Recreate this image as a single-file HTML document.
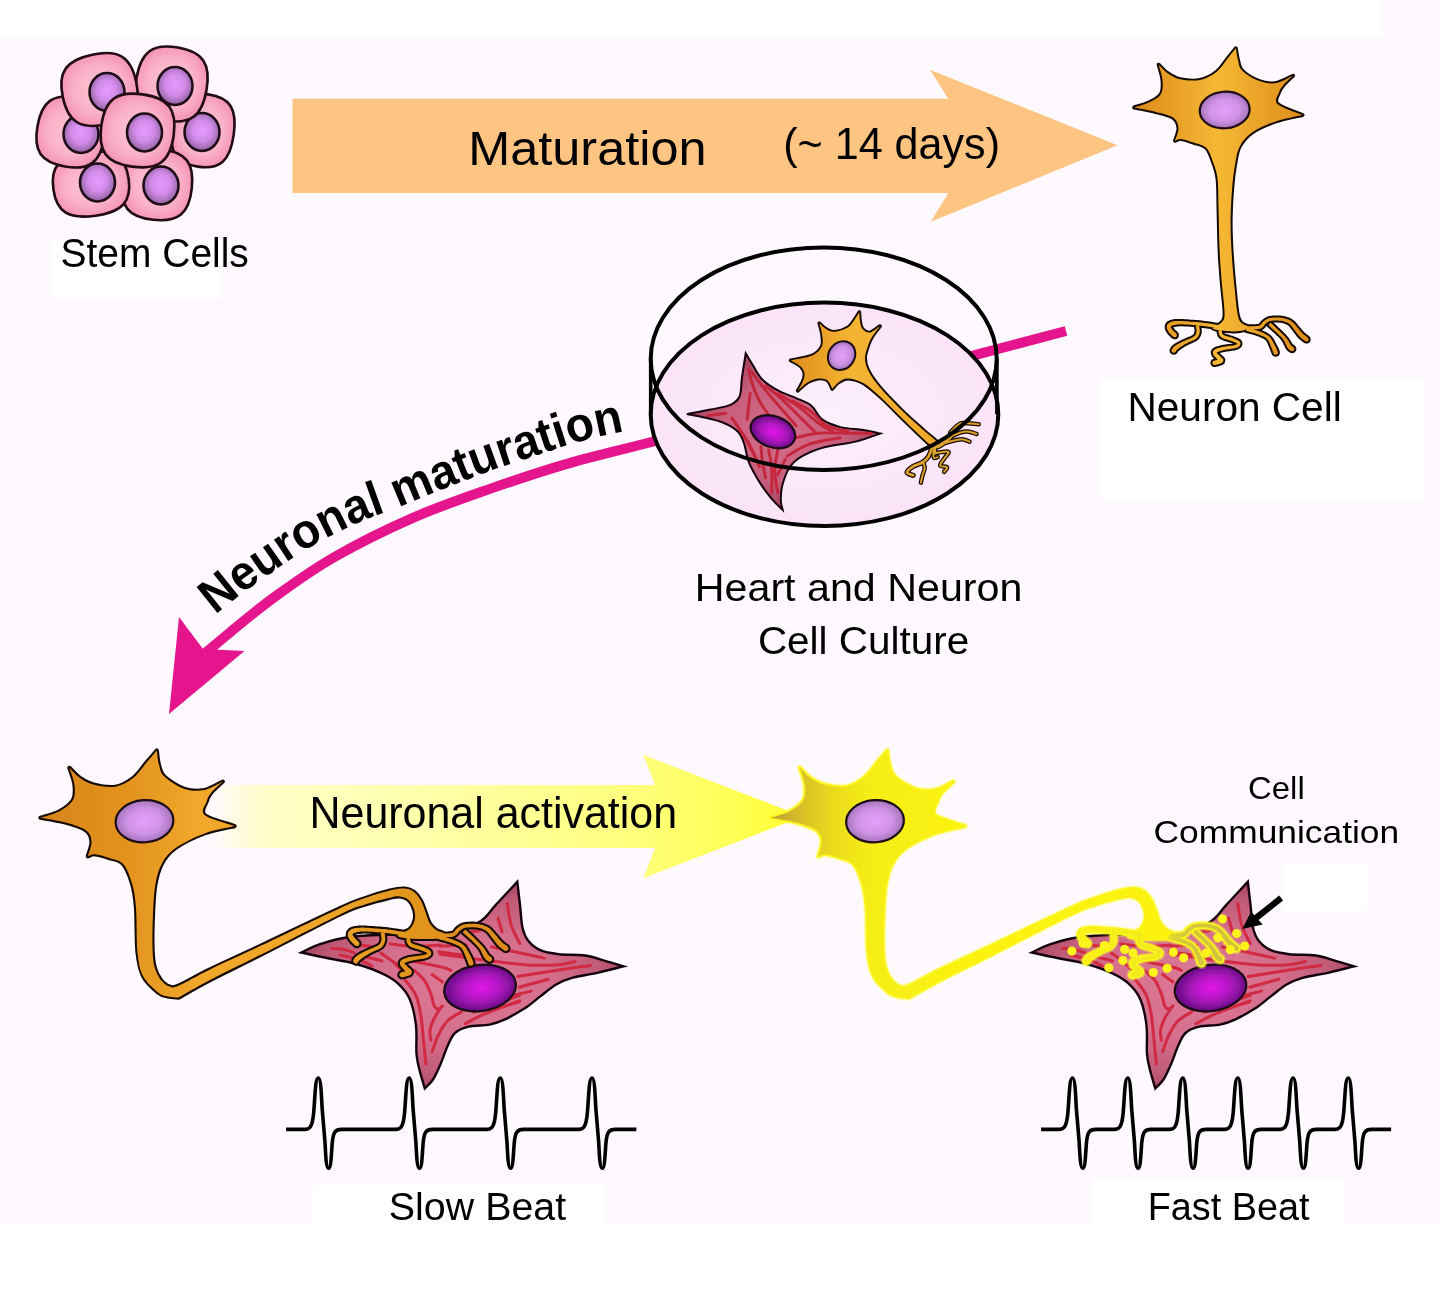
<!DOCTYPE html>
<html lang="en"><head><meta charset="utf-8"><title>Neuronal maturation and activation</title>
<style>html,body{margin:0;padding:0;background:#fff;}body{width:1440px;height:1295px;overflow:hidden;}svg{display:block;}</style>
</head><body>
<svg width="1440" height="1295" viewBox="0 0 1440 1295">
<defs>
<radialGradient id="gStem" cx="50%" cy="50%" r="55%"><stop offset="0" stop-color="#fcc6d4"/><stop offset="0.6" stop-color="#fab2c8"/><stop offset="1" stop-color="#f491b2"/></radialGradient>
<radialGradient id="gNuc" cx="50%" cy="46%" r="56%"><stop offset="0" stop-color="#e79afd"/><stop offset="0.5" stop-color="#d28bea"/><stop offset="1" stop-color="#8c5f98"/></radialGradient>
<radialGradient id="gNuc2" cx="50%" cy="50%" r="55%"><stop offset="0" stop-color="#e3a2fb"/><stop offset="0.55" stop-color="#cf92e6"/><stop offset="1" stop-color="#9a6cae"/></radialGradient>
<radialGradient id="gHNuc" cx="52%" cy="50%" r="55%"><stop offset="0" stop-color="#e216ea"/><stop offset="0.45" stop-color="#b414c4"/><stop offset="1" stop-color="#5a0f78"/></radialGradient>
<radialGradient id="gHeart" cx="50%" cy="50%" r="55%"><stop offset="0" stop-color="#dd7996"/><stop offset="0.5" stop-color="#d46e8c"/><stop offset="0.8" stop-color="#bf5a77"/><stop offset="1" stop-color="#9c405a"/></radialGradient>
<radialGradient id="gHeartD" cx="50%" cy="50%" r="55%"><stop offset="0" stop-color="#d46c89"/><stop offset="0.55" stop-color="#c9607e"/><stop offset="1" stop-color="#9a3e58"/></radialGradient>
<radialGradient id="gDish" cx="50%" cy="50%" r="60%"><stop offset="0" stop-color="#fdf0fc"/><stop offset="1" stop-color="#fae1f7"/></radialGradient>
<linearGradient id="gYArrow" gradientUnits="userSpaceOnUse" x1="212" y1="0" x2="800" y2="0"><stop offset="0" stop-color="#ffffb0" stop-opacity="0"/><stop offset="0.1" stop-color="#ffffc4" stop-opacity="0.95"/><stop offset="0.45" stop-color="#ffffa0"/><stop offset="0.72" stop-color="#ffff7c"/><stop offset="0.88" stop-color="#ffff58"/><stop offset="1" stop-color="#ffff30"/></linearGradient>
</defs>
<filter id="soft" filterUnits="userSpaceOnUse" x="-20" y="-20" width="1480" height="1335"><feGaussianBlur stdDeviation="0.5"/></filter>
<g filter="url(#soft)">
<rect x="-20" y="-20" width="1480" height="1335" fill="#fef9fe"/>
<rect x="-20" y="-20" width="1402" height="56" fill="#fff"/>
<rect x="-20" y="1223.5" width="1480" height="92" fill="#fff"/>
<rect x="52" y="240" width="170" height="58" fill="#fff"/>
<rect x="1100" y="379" width="324" height="120" fill="#fff"/>
<rect x="313" y="1185" width="292" height="40" fill="#fff"/>
<rect x="1092" y="1179" width="252" height="45" fill="#fff"/>
<rect x="1282" y="864" width="85" height="47" fill="#fff"/>
<g id="stem">
<path d="M172 130.5 C172 104.2 180.7 94 203 94 C225.3 94 234 104.2 234 130.5 C234 156.8 225.3 167 203 167 C180.7 167 172 156.8 172 130.5Z" transform="rotate(8 203 130.5)" fill="url(#gStem)" stroke="#220814" stroke-width="2.6"/>
<ellipse cx="202" cy="132" rx="17.5" ry="19" transform="rotate(0 202 132)" fill="url(#gNuc)" stroke="#1a0a14" stroke-width="2.5"/>
<path d="M122 184.5 C122 158.9 131.8 149 157 149 C182.2 149 192 158.9 192 184.5 C192 210.1 182.2 220 157 220 C131.8 220 122 210.1 122 184.5Z" transform="rotate(6 157 184.5)" fill="url(#gStem)" stroke="#220814" stroke-width="2.6"/>
<ellipse cx="161" cy="185.5" rx="17.5" ry="19" transform="rotate(0 161 185.5)" fill="url(#gNuc)" stroke="#1a0a14" stroke-width="2.5"/>
<path d="M53 184 C53 161 63.6 152 91 152 C118.4 152 129 161 129 184 C129 207 118.4 216 91 216 C63.6 216 53 207 53 184Z" transform="rotate(-8 91 184)" fill="url(#gStem)" stroke="#220814" stroke-width="2.6"/>
<ellipse cx="97.5" cy="182.5" rx="17.5" ry="19" transform="rotate(0 97.5 182.5)" fill="url(#gNuc)" stroke="#1a0a14" stroke-width="2.5"/>
<path d="M37 132 C37 106.8 46.5 97 71 97 C95.5 97 105 106.8 105 132 C105 157.2 95.5 167 71 167 C46.5 167 37 157.2 37 132Z" transform="rotate(10 71 132)" fill="url(#gStem)" stroke="#220814" stroke-width="2.6"/>
<ellipse cx="81" cy="134" rx="17.5" ry="19" transform="rotate(0 81 134)" fill="url(#gNuc)" stroke="#1a0a14" stroke-width="2.5"/>
<path d="M136 84 C136 57.4 145.9 47 171.5 47 C197.1 47 207 57.4 207 84 C207 110.6 197.1 121 171.5 121 C145.9 121 136 110.6 136 84Z" transform="rotate(10 171.5 84)" fill="url(#gStem)" stroke="#220814" stroke-width="2.6"/>
<ellipse cx="175" cy="86" rx="17.5" ry="19" transform="rotate(0 175 86)" fill="url(#gNuc)" stroke="#1a0a14" stroke-width="2.5"/>
<path d="M62 89.5 C62 63.9 72.5 54 99.5 54 C126.5 54 137 63.9 137 89.5 C137 115.1 126.5 125 99.5 125 C72.5 125 62 115.1 62 89.5Z" transform="rotate(-12 99.5 89.5)" fill="url(#gStem)" stroke="#220814" stroke-width="2.6"/>
<ellipse cx="107" cy="92" rx="17.5" ry="19" transform="rotate(0 107 92)" fill="url(#gNuc)" stroke="#1a0a14" stroke-width="2.5"/>
<path d="M101 130.5 C101 104.2 111.2 94 137.5 94 C163.8 94 174 104.2 174 130.5 C174 156.8 163.8 167 137.5 167 C111.2 167 101 156.8 101 130.5Z" transform="rotate(8 137.5 130.5)" fill="url(#gStem)" stroke="#220814" stroke-width="2.6"/>
<ellipse cx="144.5" cy="132.5" rx="17.5" ry="19" transform="rotate(0 144.5 132.5)" fill="url(#gNuc)" stroke="#1a0a14" stroke-width="2.5"/>
</g>
<path d="M292.5 98.7H948.3L930 69.7L1117.5 145.3L930.8 221.7L948.3 193H292.5Z" fill="#fdc482"/>
<path id="magpath" d="M196 661C201.6 656.3 216.2 643.6 229.5 632.8C242.8 621.9 258.6 608.5 276.1 595.9C293.6 583.3 311.8 570 334.5 557C357.2 544 386.4 529.5 412.3 518.1C438.2 506.8 464.1 498 490 488.9C515.9 479.8 540.6 471.5 567.8 463.6C595 455.7 621.4 449.9 653.4 441.5C685.4 433.1 718.9 424.1 760 413C801.1 401.9 849 388.7 900 375C951 361.3 1038.3 338.3 1066 331" fill="none" stroke="#e5178d" stroke-width="10"/>
<path d="M179 617L203 649L244.5 651L169 714Z" fill="#e5178d"/>
<g id="dish">
<ellipse cx="824.5" cy="414.3" rx="173.8" ry="111.7" fill="url(#gDish)"/>
</g>
<g id="dheart">
<clipPath id="clipD"><path d="M686.9 414.1C690.9 413.3 703.4 411 710.6 409.5C717.9 408 725.6 407.1 730.4 404.9C735.2 402.7 737.7 400.9 739.6 396.5C741.5 392.1 740.9 385.4 741.9 378.2C742.9 371 745.1 357.5 745.7 353.4C747 355.5 750.5 361.6 753.3 366C756.1 370.4 758.4 375.6 762.5 379.7C766.6 383.8 772.2 387.3 777.8 390.4C783.4 393.5 790.5 395.6 796.1 398.1C801.7 400.7 807.1 402.1 811.4 405.7C815.7 409.2 817.3 415.8 822.1 419.4C826.9 423 833.5 425.3 840.4 427.1C847.3 428.9 856.7 429 863.3 430.1C869.9 431.2 877.4 432.9 880.2 433.5C876.1 434.9 864.9 439.4 855.7 441.6C846.5 443.9 834.1 444.6 825.2 447C816.3 449.4 808.1 452.8 802.2 456.1C796.3 459.4 793.3 462 790 466.8C786.7 471.6 783.9 479.5 782.4 485.1C780.9 490.7 780.8 496.3 780.8 500.4C780.8 504.5 782.4 508.3 782.7 509.9C780.9 508.1 775.6 503.5 771.7 498.9C767.8 494.3 763.3 488.2 759.5 482.1C755.7 476 751.3 468.6 748.8 462.2C746.2 455.8 746 449 744.2 443.9C742.4 438.8 741.6 435.3 738 431.7C734.4 428.1 728.6 424.9 722.8 422.5C716.9 420.1 708.9 418.6 702.9 417.2C696.9 415.8 689.6 414.6 686.9 414.1Z"/></clipPath>
<path d="M686.9 414.1C690.9 413.3 703.4 411 710.6 409.5C717.9 408 725.6 407.1 730.4 404.9C735.2 402.7 737.7 400.9 739.6 396.5C741.5 392.1 740.9 385.4 741.9 378.2C742.9 371 745.1 357.5 745.7 353.4C747 355.5 750.5 361.6 753.3 366C756.1 370.4 758.4 375.6 762.5 379.7C766.6 383.8 772.2 387.3 777.8 390.4C783.4 393.5 790.5 395.6 796.1 398.1C801.7 400.7 807.1 402.1 811.4 405.7C815.7 409.2 817.3 415.8 822.1 419.4C826.9 423 833.5 425.3 840.4 427.1C847.3 428.9 856.7 429 863.3 430.1C869.9 431.2 877.4 432.9 880.2 433.5C876.1 434.9 864.9 439.4 855.7 441.6C846.5 443.9 834.1 444.6 825.2 447C816.3 449.4 808.1 452.8 802.2 456.1C796.3 459.4 793.3 462 790 466.8C786.7 471.6 783.9 479.5 782.4 485.1C780.9 490.7 780.8 496.3 780.8 500.4C780.8 504.5 782.4 508.3 782.7 509.9C780.9 508.1 775.6 503.5 771.7 498.9C767.8 494.3 763.3 488.2 759.5 482.1C755.7 476 751.3 468.6 748.8 462.2C746.2 455.8 746 449 744.2 443.9C742.4 438.8 741.6 435.3 738 431.7C734.4 428.1 728.6 424.9 722.8 422.5C716.9 420.1 708.9 418.6 702.9 417.2C696.9 415.8 689.6 414.6 686.9 414.1Z" fill="url(#gHeartD)" stroke="#14040c" stroke-width="2"/>
<g clip-path="url(#clipD)" fill="none" stroke="#c5263a" stroke-width="2.9" stroke-linecap="round">
<path d="M748.8 369C749.3 371.3 750 377.4 751.8 382.8C753.6 388.2 756.2 395 759.5 401.1C762.8 407.2 769.7 416.3 771.7 419.4"/>
<path d="M750.3 393.5C750 395.6 749.1 401.7 748.6 406C748.1 410.3 747.4 417.2 747.2 419.4"/>
<path d="M751.8 372C754.1 375.1 760.2 383.8 765.6 390.4C771 397 778.8 405.9 783.9 411.8C789 417.7 794.1 423.3 796.1 425.6"/>
<path d="M765.6 385.8C768.6 388.4 777.8 395.5 783.9 401.1C790 406.7 797.1 414.3 802.2 419.4C807.3 424.5 812.5 429.6 814.5 431.7"/>
<path d="M777.8 393.5C781.4 395.8 792.6 402.4 799.2 407.2C805.8 412 811.9 418.4 817.5 422.5C823.1 426.6 830.2 430.2 832.8 431.7"/>
<path d="M793 401.1C796.1 402.9 805.8 407.7 811.4 411.8C817 415.9 820.6 422.3 826.7 425.6C832.8 428.9 844.5 430.7 848 431.7"/>
<path d="M796.1 437.8C799.7 437 808.9 434 817.5 433.2C826.1 432.4 839.1 433.2 848 433.2C856.9 433.2 867.2 433.2 871 433.2"/>
<path d="M787 456.1C790.8 454.1 801 446.9 809.9 443.9C818.8 440.8 835.3 438.8 840.4 437.8"/>
<path d="M707.5 415.6C710.5 415.2 722.8 413.7 725.8 413.3"/>
<path d="M731.9 417.9C733.4 420.2 737.8 426.3 741.1 431.7C744.4 437.1 748.7 444.1 751.8 450C754.9 455.9 758.2 464 759.5 466.8"/>
<path d="M735 422.5C737 425.6 743.6 434.7 747.2 440.8C750.8 446.9 754.9 456.1 756.4 459.2"/>
<path d="M761 447C761.2 449.5 761.7 457.1 762.5 462.2C763.3 467.3 765.1 474.9 765.6 477.5"/>
<path d="M768.6 450C769.1 453.1 771.2 461.2 771.7 468.3C772.2 475.4 771.7 488.7 771.7 492.8"/>
<path d="M777.8 450C777.3 453.3 774.7 462.8 774.7 469.9C774.7 477 777.3 489 777.8 492.8"/>
<path d="M785.4 459.2C784.1 461.8 779.1 471.9 777.8 474.5"/>
</g>
<ellipse cx="772.9" cy="431.7" rx="23" ry="15.5" transform="rotate(20 772.9 431.7)" fill="url(#gHNuc)" stroke="#1a0a14" stroke-width="2.3"/>
</g>
<linearGradient id="gDN" gradientUnits="userSpaceOnUse" x1="792" y1="0" x2="940" y2="0"><stop offset="0" stop-color="#de8e1c"/><stop offset="0.4" stop-color="#f5b432"/><stop offset="1" stop-color="#eda828"/></linearGradient>
<g id="dneuron" fill="none" stroke-linecap="round" stroke-linejoin="round">
<path d="M790.7 360.4C794.3 359.6 807 358 812.2 355.6C817.4 353.2 820.4 349.6 822 346C823.6 342.4 822.5 337.8 822 334C821.5 330.2 819.8 325.1 819.3 323.3C820.4 324.2 823.5 327.6 826 329C828.5 330.4 830.8 332.1 834.4 331.8C838 331.6 844.4 329.6 847.8 327.5C851.2 325.4 853.1 321.6 855 319C856.9 316.4 858.6 313.3 859.3 312.2C859.4 313.7 859.5 318.2 860 321C860.5 323.8 860.8 327.1 862.5 329C864.2 330.9 867.1 333 870 332.5C872.9 332 878.3 327.2 880 326.2C878.7 328 874 333.7 872 337C870 340.3 869.2 342.5 868 346C866.8 349.5 865 353.9 865 358C865 362.1 865.8 365.7 868.3 370.7C870.8 375.7 874.6 381.1 880.2 387.8C885.9 394.5 894.9 403.6 902.2 410.8C909.5 418 918.2 425.4 924.2 430.8C930.2 436.2 936.7 440.6 938.4 443.4C940.1 446.2 936.2 447.6 934.6 447.6C933 447.6 933.7 448.2 928.6 443.6C923.5 439 911.9 427.8 904.1 420.2C896.3 412.6 888.5 404.3 881.8 398.2C875.1 392.1 869.3 386.6 863.7 383.3C858.1 380 852.1 378.7 848 378.5C843.9 378.3 841.6 380.3 839 382C836.4 383.7 833.3 387.8 832.2 388.9C831.8 387.9 830.5 384.6 829.5 383C828.5 381.4 827.9 380.2 826 379.5C824.1 378.8 821 378.1 818 378.5C815 378.9 811.2 380.2 807.8 382.2C804.4 384.2 799.5 389.3 797.8 390.7C798.7 389.1 801.9 383.8 803 381C804.1 378.2 804.8 376.4 804.5 374C804.2 371.6 803.3 369 801 366.7C798.7 364.4 792.4 361.4 790.7 360.4Z" stroke="#140802" stroke-width="3.8"/>
<path d="M934 445.5C934.6 445.6 935.4 447.4 937.9 446.3C940.4 445.2 946.4 440.7 948.7 438.6C951 436.6 951.3 434.8 951.8 434" stroke="#1a0c04" stroke-width="6.1"/>
<path d="M950.2 432.4C951.8 431 956.7 425.4 959.5 423.9C962.3 422.4 964 423.1 967.2 423.2C970.4 423.3 976.9 424.1 978.8 424.3" stroke="#1a0c04" stroke-width="4.5"/>
<path d="M951.8 436.3C953.3 435.6 958.2 433.2 961 432.4C963.8 431.6 966.2 431.4 968.8 431.7C971.4 432 975.2 433.6 976.5 434" stroke="#1a0c04" stroke-width="4.5"/>
<path d="M944.1 443.2C946 442.7 952.4 440.8 955.6 440.2C958.8 439.6 961.1 439.1 963.4 439.4C965.7 439.6 968.5 441.3 969.5 441.7" stroke="#1a0c04" stroke-width="4.5"/>
<path d="M932.5 446C932.4 446.3 932.4 446.2 931.7 447.9C931.1 449.6 930.2 454 928.6 456.4C927 458.8 925 460.8 922.4 462.5C919.8 464.2 915.8 464.7 913.2 466.4C910.6 468.1 907 471.1 907 472.6C907 474.1 912.2 474.9 913.2 475.3" stroke="#1a0c04" stroke-width="5.2"/>
<path d="M923.2 462.5C923.5 463.4 924.8 465.8 924.7 468C924.6 470.2 923 473.3 922.4 475.7C921.8 478.1 921.1 481.5 920.9 482.6" stroke="#1a0c04" stroke-width="4.5"/>
<path d="M935.6 453.3C937 453 941.9 451.8 944.1 451.7C946.3 451.6 948.7 451.3 948.7 452.5C948.7 453.7 945.5 456.5 944.1 458.7C942.7 460.9 939.7 464.2 940.2 465.6C940.7 467 946.5 466.2 947.1 467.2C947.8 468.2 944.6 471 944.1 471.8" stroke="#1a0c04" stroke-width="4.5"/>
<path d="M933.2 452C933.3 453 933.2 457 934 457.9C934.8 458.8 937.2 457.2 937.9 457.1" stroke="#1a0c04" stroke-width="4.3"/>
<path d="M934 446C934.1 447.2 934.4 451.8 934.5 453" stroke="#1a0c04" stroke-width="6.1"/>
<path d="M790.7 360.4C794.3 359.6 807 358 812.2 355.6C817.4 353.2 820.4 349.6 822 346C823.6 342.4 822.5 337.8 822 334C821.5 330.2 819.8 325.1 819.3 323.3C820.4 324.2 823.5 327.6 826 329C828.5 330.4 830.8 332.1 834.4 331.8C838 331.6 844.4 329.6 847.8 327.5C851.2 325.4 853.1 321.6 855 319C856.9 316.4 858.6 313.3 859.3 312.2C859.4 313.7 859.5 318.2 860 321C860.5 323.8 860.8 327.1 862.5 329C864.2 330.9 867.1 333 870 332.5C872.9 332 878.3 327.2 880 326.2C878.7 328 874 333.7 872 337C870 340.3 869.2 342.5 868 346C866.8 349.5 865 353.9 865 358C865 362.1 865.8 365.7 868.3 370.7C870.8 375.7 874.6 381.1 880.2 387.8C885.9 394.5 894.9 403.6 902.2 410.8C909.5 418 918.2 425.4 924.2 430.8C930.2 436.2 936.7 440.6 938.4 443.4C940.1 446.2 936.2 447.6 934.6 447.6C933 447.6 933.7 448.2 928.6 443.6C923.5 439 911.9 427.8 904.1 420.2C896.3 412.6 888.5 404.3 881.8 398.2C875.1 392.1 869.3 386.6 863.7 383.3C858.1 380 852.1 378.7 848 378.5C843.9 378.3 841.6 380.3 839 382C836.4 383.7 833.3 387.8 832.2 388.9C831.8 387.9 830.5 384.6 829.5 383C828.5 381.4 827.9 380.2 826 379.5C824.1 378.8 821 378.1 818 378.5C815 378.9 811.2 380.2 807.8 382.2C804.4 384.2 799.5 389.3 797.8 390.7C798.7 389.1 801.9 383.8 803 381C804.1 378.2 804.8 376.4 804.5 374C804.2 371.6 803.3 369 801 366.7C798.7 364.4 792.4 361.4 790.7 360.4Z" fill="url(#gDN)"/>
<path d="M934 445.5C934.6 445.6 935.4 447.4 937.9 446.3C940.4 445.2 946.4 440.7 948.7 438.6C951 436.6 951.3 434.8 951.8 434" stroke="#dca22e" stroke-width="3.6"/>
<path d="M950.2 432.4C951.8 431 956.7 425.4 959.5 423.9C962.3 422.4 964 423.1 967.2 423.2C970.4 423.3 976.9 424.1 978.8 424.3" stroke="#dca22e" stroke-width="2"/>
<path d="M951.8 436.3C953.3 435.6 958.2 433.2 961 432.4C963.8 431.6 966.2 431.4 968.8 431.7C971.4 432 975.2 433.6 976.5 434" stroke="#dca22e" stroke-width="2"/>
<path d="M944.1 443.2C946 442.7 952.4 440.8 955.6 440.2C958.8 439.6 961.1 439.1 963.4 439.4C965.7 439.6 968.5 441.3 969.5 441.7" stroke="#dca22e" stroke-width="2"/>
<path d="M932.5 446C932.4 446.3 932.4 446.2 931.7 447.9C931.1 449.6 930.2 454 928.6 456.4C927 458.8 925 460.8 922.4 462.5C919.8 464.2 915.8 464.7 913.2 466.4C910.6 468.1 907 471.1 907 472.6C907 474.1 912.2 474.9 913.2 475.3" stroke="#dca22e" stroke-width="2.7"/>
<path d="M923.2 462.5C923.5 463.4 924.8 465.8 924.7 468C924.6 470.2 923 473.3 922.4 475.7C921.8 478.1 921.1 481.5 920.9 482.6" stroke="#dca22e" stroke-width="2"/>
<path d="M935.6 453.3C937 453 941.9 451.8 944.1 451.7C946.3 451.6 948.7 451.3 948.7 452.5C948.7 453.7 945.5 456.5 944.1 458.7C942.7 460.9 939.7 464.2 940.2 465.6C940.7 467 946.5 466.2 947.1 467.2C947.8 468.2 944.6 471 944.1 471.8" stroke="#dca22e" stroke-width="2"/>
<path d="M933.2 452C933.3 453 933.2 457 934 457.9C934.8 458.8 937.2 457.2 937.9 457.1" stroke="#dca22e" stroke-width="1.8"/>
<path d="M934 446C934.1 447.2 934.4 451.8 934.5 453" stroke="#dca22e" stroke-width="3.6"/>
</g>
<ellipse cx="841.6" cy="355.6" rx="13" ry="15" transform="rotate(35 841.6 355.6)" fill="url(#gNuc2)" stroke="#1a0a14" stroke-width="2.0"/>
<g fill="none" stroke="#000" stroke-width="4">
<ellipse cx="824.5" cy="414.3" rx="173.8" ry="111.7"/>
<ellipse cx="823.7" cy="358.7" rx="173" ry="111.3"/>
<path d="M650.7 358.7V414.3M996.9 358.7V414.3" stroke-width="3.6"/>
</g>
<linearGradient id="gTR" gradientUnits="userSpaceOnUse" x1="1134" y1="0" x2="1303" y2="0"><stop offset="0" stop-color="#dc8a1b"/><stop offset="0.5" stop-color="#f6b834"/><stop offset="1" stop-color="#dd8c1b"/></linearGradient>
<linearGradient id="gTRb" gradientUnits="userSpaceOnUse" x1="1168" y1="0" x2="1308" y2="0"><stop offset="0" stop-color="#e49a22"/><stop offset="0.45" stop-color="#f2b030"/><stop offset="1" stop-color="#de8a1c"/></linearGradient>
<g id="ntr" fill="none" stroke-linecap="round" stroke-linejoin="round"><path d="M1134.2 107.5C1136.8 106.6 1145.5 104.2 1150 102C1154.5 99.8 1158.9 97.7 1161 94C1163.1 90.3 1162.9 84.9 1162.5 80C1162.1 75.1 1159.3 67.2 1158.7 64.7C1160.2 66.2 1164.5 71.1 1168 73.5C1171.5 75.9 1174.7 78.1 1180 79.2C1185.3 80.3 1193.9 81.2 1200 80C1206.1 78.8 1212 75.4 1216.7 71.7C1221.4 68 1224.8 61.9 1228 58C1231.2 54.1 1234.5 49.9 1235.8 48.3C1236.2 50.2 1237 56.4 1238 60C1239 63.6 1238.6 66.7 1241.7 70C1244.8 73.3 1251.2 77.8 1256.7 80C1262.2 82.2 1269 84 1275 83.3C1281 82.6 1290 77 1293 75.8C1291.4 77.3 1285.8 82.2 1283.5 85C1281.2 87.8 1280 89.3 1279 92.5C1278 95.7 1273.6 100.2 1277.5 104C1281.4 107.8 1298.3 113.2 1302.5 115C1297.9 116.1 1283.4 118.8 1275 121.7C1266.6 124.6 1257.9 128.3 1252 132.5C1246.1 136.7 1242.4 141.3 1239.6 146.7C1236.8 152.1 1236.3 157.8 1235 165C1233.7 172.2 1232.7 180.3 1232 190C1231.3 199.7 1230.6 212.5 1230.6 223.3C1230.6 234.1 1231.1 243.9 1231.8 255C1232.5 266.1 1233.8 280.2 1234.8 290C1235.8 299.8 1236.6 308.6 1237.6 314C1238.6 319.4 1239.1 320.2 1241 322.5C1242.9 324.8 1249.2 326.1 1249 327.5C1248.8 328.9 1243.8 330.4 1240 331C1236.2 331.6 1230.5 331.4 1226 331C1221.5 330.6 1213.8 329.8 1213 328.5C1212.2 327.2 1219.1 325.4 1221 323C1222.9 320.6 1224.5 321.2 1224.6 314C1224.7 306.8 1222.4 290.7 1221.6 280C1220.8 269.3 1220.1 262.2 1219.6 250C1219.1 237.8 1218.8 218.6 1218.5 206.7C1218.2 194.8 1218.5 186.1 1217.5 178.3C1216.5 170.5 1214.2 165.1 1212.3 160C1210.4 154.9 1209.2 150.4 1206 147.5C1202.8 144.6 1197.5 143.9 1193.3 142.5C1189.1 141.1 1184 139.3 1181 139C1178 138.7 1176 140.5 1175 140.8C1175.6 138.7 1178.8 131.9 1178.5 128C1178.2 124.1 1176.9 120.2 1173 117.5C1169.1 114.8 1161.5 113.4 1155 111.7C1148.5 110 1137.7 108.2 1134.2 107.5ZM1223.7 325.8L1221.6 325.5L1218.5 325L1214.8 324.4L1211 323.8L1207.4 323.3L1204.2 322.9L1201.6 322.6L1199.2 322.3L1197.1 322.1L1195 322L1192.9 321.8L1190.8 321.7L1188.7 321.5L1186.6 321.3L1184.4 321.2L1182.4 321L1180.4 320.9L1178.5 320.9L1176.8 321L1175.2 321.1L1173.6 321.3L1172.2 321.6L1170.9 322L1169.8 322.4L1168.7 323L1167.8 323.8L1167.2 324.8L1166.9 325.8L1166.7 326.7L1166.7 327.7L1166.9 328.7L1167.3 329.7L1167.8 330.6L1168.3 331.5L1168.8 332.2L1169.4 333L1170 333.7L1170.8 334.5L1171.5 335.2L1172.2 335.9L1172.8 336.4L1173.2 336.8L1174.2 337.3L1175.4 337.3L1176.4 336.7L1176.9 335.6L1176.9 334.5L1176.2 333.5L1175.8 333.1L1175.2 332.6L1174.6 332L1173.9 331.3L1173.3 330.7L1172.8 330.2L1172.3 329.6L1171.9 329L1171.4 328.4L1171.1 327.9L1170.9 327.5L1170.9 327.3L1170.9 327L1170.9 326.7L1170.9 326.6L1171 326.4L1171.2 326.2L1171.5 326L1172.2 325.7L1173.2 325.3L1174.3 325L1175.7 324.8L1177.1 324.6L1178.7 324.4L1180.4 324.3L1182.2 324.3L1184.3 324.4L1186.4 324.5L1188.5 324.6L1190.6 324.8L1192.7 324.9L1194.7 325.1L1196.8 325.2L1198.9 325.4L1201.2 325.7L1203.8 326L1206.9 326.5L1210.5 327L1214.3 327.7L1217.9 328.3L1221 328.8L1223.2 329.1ZM1195.7 325.5L1195.9 326.3L1196.1 327.3L1196.3 328.5L1196.5 329.7L1196.5 330.8L1196.5 331.7L1196.3 332.6L1196.1 333.4L1195.8 334.2L1195.5 334.9L1194.9 335.6L1194.2 336.3L1193.1 337L1191.7 337.7L1190 338.5L1188.1 339.2L1186.3 340L1184.5 340.8L1182.8 341.6L1181.1 342.4L1179.4 343.3L1177.8 344.1L1176.3 345L1175.1 345.7L1174.1 346.5L1173.3 347.3L1172.7 348.1L1172.3 348.7L1172.1 349.1L1171.9 349.3L1171.5 350.4L1171.7 351.6L1172.5 352.4L1173.6 352.8L1174.7 352.6L1175.6 351.9L1175.9 351.5L1176.1 351L1176.4 350.6L1176.6 350.2L1177 349.8L1177.7 349.2L1178.7 348.5L1179.9 347.6L1181.4 346.6L1182.9 345.6L1184.5 344.6L1186 343.7L1187.6 342.9L1189.3 342.1L1191.2 341.3L1193 340.5L1194.7 339.7L1196.1 338.8L1197.3 337.7L1198.1 336.6L1198.7 335.5L1199.2 334.4L1199.5 333.3L1199.7 332.1L1199.8 330.8L1199.7 329.4L1199.5 328L1199.3 326.7L1199.1 325.7L1199 325ZM1218.3 330.5L1218.5 331.1L1218.6 332L1218.8 333.2L1219.2 334.6L1219.9 336L1221.2 337.3L1222.8 338.2L1224.7 339L1226.8 339.6L1228.8 340.2L1230.7 340.7L1232.2 341.2L1233.5 341.8L1234.9 342.3L1236 342.9L1236.9 343.3L1237.4 343.7L1237.4 343.8L1237.4 343.6L1237.4 343.6L1237.3 343.8L1236.8 344.2L1236.1 344.6L1235 345L1233.4 345.4L1231.1 345.8L1228.6 346.1L1225.9 346.4L1223.4 346.8L1221.3 347.2L1219.5 347.7L1217.9 348.1L1216.4 348.7L1215 349.3L1213.8 350.2L1212.8 351.6L1212.8 353.5L1213.5 355L1214.4 356.2L1215.4 357.2L1216.2 358.1L1216.9 358.9L1217.6 359.7L1218.4 360.4L1219.1 361L1219.4 361.2L1219.1 360.7L1219.5 359.3L1219.6 359.2L1218.7 359.5L1217.5 359.8L1216.1 360.2L1214.9 360.5L1214 360.7L1213 361.3L1212.5 362.3L1212.5 363.4L1213 364.4L1214 365L1215.2 365L1216 364.8L1217.2 364.5L1218.7 364.1L1220.1 363.7L1221.5 363.1L1222.9 362.1L1223.4 359.8L1222.6 358.4L1221.8 357.7L1221.1 357.1L1220.5 356.7L1220 356.1L1219.2 355.3L1218.3 354.4L1217.4 353.6L1216.7 352.8L1216.5 352.5L1216.4 352.7L1216.4 352.8L1216.9 352.4L1217.8 352L1219 351.4L1220.5 350.9L1222.1 350.4L1224 350L1226.4 349.6L1229 349.2L1231.6 348.8L1234 348.5L1235.9 348L1237.4 347.4L1238.6 346.8L1239.5 346L1240.2 345L1240.5 343.8L1240.3 342.5L1239.6 341.4L1238.6 340.7L1237.4 340L1236.1 339.4L1234.8 338.9L1233.3 338.3L1231.7 337.6L1229.7 337.1L1227.7 336.5L1225.8 335.9L1224.2 335.3L1223.1 334.7L1222.6 334.1L1222.2 333.4L1222 332.5L1221.8 331.5L1221.7 330.5L1221.6 329.8ZM1246 330.8L1247.5 331.3L1249.5 331.8L1251.9 332.4L1254.4 333.1L1256.8 333.9L1258.8 334.6L1260.5 335.2L1262.1 335.9L1263.6 336.6L1264.9 337.3L1266.1 338.1L1267.1 339L1267.9 339.9L1268.6 341L1269.2 342.2L1269.7 343.5L1270.2 344.8L1270.8 346.1L1271.3 347.4L1271.9 348.8L1272.4 350.2L1272.9 351.5L1273.3 352.6L1273.6 353.4L1274.3 354.3L1275.4 354.8L1276.5 354.6L1277.5 353.9L1277.9 352.9L1277.8 351.7L1277.5 350.9L1277 349.8L1276.5 348.5L1275.8 347.1L1275.1 345.7L1274.4 344.4L1273.7 343.2L1273.1 341.9L1272.3 340.5L1271.5 339.2L1270.5 337.8L1269.3 336.6L1267.9 335.6L1266.5 334.7L1265 333.8L1263.4 333.1L1261.7 332.3L1259.9 331.6L1257.8 330.8L1255.3 330.1L1252.8 329.3L1250.4 328.6L1248.4 328.1L1246.9 327.7ZM1268.4 325.1L1269.4 326L1270.7 327.3L1272.3 328.7L1274 330.2L1275.7 331.7L1277.1 333.1L1278.3 334.3L1279.5 335.4L1280.7 336.5L1281.7 337.6L1282.6 338.7L1283.5 339.9L1284.2 341.1L1284.9 342.4L1285.5 343.8L1286.2 345.2L1286.8 346.5L1287.5 347.7L1288.2 348.6L1288.9 349.4L1289.6 350L1290.2 350.4L1290.6 350.6L1290.8 350.8L1291.9 351.2L1293 351.1L1294 350.3L1294.4 349.2L1294.2 348.1L1293.5 347.2L1293.1 346.9L1292.7 346.6L1292.3 346.4L1291.9 346.1L1291.5 345.7L1291 345.2L1290.4 344.4L1289.7 343.3L1289 342L1288.1 340.6L1287.2 339.2L1286.1 337.9L1285.1 336.6L1284 335.5L1282.9 334.3L1281.7 333.2L1280.5 332L1279.3 330.8L1277.8 329.4L1276.2 327.9L1274.5 326.3L1272.9 324.8L1271.6 323.6L1270.6 322.7ZM1248.3 329.6L1249.6 329.5L1251.5 329.5L1253.8 329.5L1256.1 329.3L1258.3 329.1L1260.3 328.7L1261.8 327.9L1263 327L1263.9 326L1264.5 325L1265.1 324.3L1265.7 323.7L1266.5 323.1L1267.3 322.6L1268 322.1L1268.7 321.6L1269.6 321.3L1270.7 321L1272.1 320.8L1273.9 320.6L1275.8 320.6L1277.7 320.6L1279.6 320.7L1281.2 320.8L1282.7 321.1L1284.2 321.5L1285.6 321.9L1286.9 322.5L1288.1 323.1L1289.2 323.7L1290.1 324.5L1291 325.4L1291.8 326.4L1292.6 327.5L1293.5 328.7L1294.4 329.9L1295.2 331L1296.1 332.2L1297 333.4L1297.9 334.6L1298.8 335.8L1299.8 336.8L1300.8 337.8L1301.9 338.7L1302.9 339.5L1303.9 340.2L1304.6 340.8L1305.1 341.2L1306.2 341.6L1307.4 341.5L1308.3 340.7L1308.7 339.7L1308.6 338.5L1307.8 337.6L1307.3 337.2L1306.5 336.6L1305.6 336L1304.7 335.3L1303.8 334.5L1302.9 333.8L1302.1 332.9L1301.2 331.9L1300.3 330.8L1299.3 329.7L1298.4 328.5L1297.4 327.4L1296.5 326.3L1295.6 325.2L1294.6 324.1L1293.6 322.9L1292.4 321.9L1291.1 320.9L1289.7 320.1L1288.2 319.4L1286.6 318.9L1285 318.4L1283.4 318L1281.7 317.8L1279.8 317.6L1277.8 317.5L1275.7 317.5L1273.7 317.5L1271.8 317.7L1270.1 317.9L1268.6 318.3L1267.4 318.8L1266.3 319.4L1265.4 320L1264.6 320.6L1263.7 321.3L1262.8 322.1L1262 323.1L1261.3 323.9L1260.7 324.6L1260.1 325.2L1259.3 325.6L1257.8 325.9L1255.9 326.1L1253.6 326.2L1251.5 326.2L1249.6 326.2L1248.2 326.3Z" stroke="#140802" stroke-width="4"/><path d="M1134.2 107.5C1136.8 106.6 1145.5 104.2 1150 102C1154.5 99.8 1158.9 97.7 1161 94C1163.1 90.3 1162.9 84.9 1162.5 80C1162.1 75.1 1159.3 67.2 1158.7 64.7C1160.2 66.2 1164.5 71.1 1168 73.5C1171.5 75.9 1174.7 78.1 1180 79.2C1185.3 80.3 1193.9 81.2 1200 80C1206.1 78.8 1212 75.4 1216.7 71.7C1221.4 68 1224.8 61.9 1228 58C1231.2 54.1 1234.5 49.9 1235.8 48.3C1236.2 50.2 1237 56.4 1238 60C1239 63.6 1238.6 66.7 1241.7 70C1244.8 73.3 1251.2 77.8 1256.7 80C1262.2 82.2 1269 84 1275 83.3C1281 82.6 1290 77 1293 75.8C1291.4 77.3 1285.8 82.2 1283.5 85C1281.2 87.8 1280 89.3 1279 92.5C1278 95.7 1273.6 100.2 1277.5 104C1281.4 107.8 1298.3 113.2 1302.5 115C1297.9 116.1 1283.4 118.8 1275 121.7C1266.6 124.6 1257.9 128.3 1252 132.5C1246.1 136.7 1242.4 141.3 1239.6 146.7C1236.8 152.1 1236.3 157.8 1235 165C1233.7 172.2 1232.7 180.3 1232 190C1231.3 199.7 1230.6 212.5 1230.6 223.3C1230.6 234.1 1231.1 243.9 1231.8 255C1232.5 266.1 1233.8 280.2 1234.8 290C1235.8 299.8 1236.6 308.6 1237.6 314C1238.6 319.4 1239.1 320.2 1241 322.5C1242.9 324.8 1249.2 326.1 1249 327.5C1248.8 328.9 1243.8 330.4 1240 331C1236.2 331.6 1230.5 331.4 1226 331C1221.5 330.6 1213.8 329.8 1213 328.5C1212.2 327.2 1219.1 325.4 1221 323C1222.9 320.6 1224.5 321.2 1224.6 314C1224.7 306.8 1222.4 290.7 1221.6 280C1220.8 269.3 1220.1 262.2 1219.6 250C1219.1 237.8 1218.8 218.6 1218.5 206.7C1218.2 194.8 1218.5 186.1 1217.5 178.3C1216.5 170.5 1214.2 165.1 1212.3 160C1210.4 154.9 1209.2 150.4 1206 147.5C1202.8 144.6 1197.5 143.9 1193.3 142.5C1189.1 141.1 1184 139.3 1181 139C1178 138.7 1176 140.5 1175 140.8C1175.6 138.7 1178.8 131.9 1178.5 128C1178.2 124.1 1176.9 120.2 1173 117.5C1169.1 114.8 1161.5 113.4 1155 111.7C1148.5 110 1137.7 108.2 1134.2 107.5Z" fill="url(#gTR)"/><path d="M1223.7 325.8L1221.6 325.5L1218.5 325L1214.8 324.4L1211 323.8L1207.4 323.3L1204.2 322.9L1201.6 322.6L1199.2 322.3L1197.1 322.1L1195 322L1192.9 321.8L1190.8 321.7L1188.7 321.5L1186.6 321.3L1184.4 321.2L1182.4 321L1180.4 320.9L1178.5 320.9L1176.8 321L1175.2 321.1L1173.6 321.3L1172.2 321.6L1170.9 322L1169.8 322.4L1168.7 323L1167.8 323.8L1167.2 324.8L1166.9 325.8L1166.7 326.7L1166.7 327.7L1166.9 328.7L1167.3 329.7L1167.8 330.6L1168.3 331.5L1168.8 332.2L1169.4 333L1170 333.7L1170.8 334.5L1171.5 335.2L1172.2 335.9L1172.8 336.4L1173.2 336.8L1174.2 337.3L1175.4 337.3L1176.4 336.7L1176.9 335.6L1176.9 334.5L1176.2 333.5L1175.8 333.1L1175.2 332.6L1174.6 332L1173.9 331.3L1173.3 330.7L1172.8 330.2L1172.3 329.6L1171.9 329L1171.4 328.4L1171.1 327.9L1170.9 327.5L1170.9 327.3L1170.9 327L1170.9 326.7L1170.9 326.6L1171 326.4L1171.2 326.2L1171.5 326L1172.2 325.7L1173.2 325.3L1174.3 325L1175.7 324.8L1177.1 324.6L1178.7 324.4L1180.4 324.3L1182.2 324.3L1184.3 324.4L1186.4 324.5L1188.5 324.6L1190.6 324.8L1192.7 324.9L1194.7 325.1L1196.8 325.2L1198.9 325.4L1201.2 325.7L1203.8 326L1206.9 326.5L1210.5 327L1214.3 327.7L1217.9 328.3L1221 328.8L1223.2 329.1ZM1195.7 325.5L1195.9 326.3L1196.1 327.3L1196.3 328.5L1196.5 329.7L1196.5 330.8L1196.5 331.7L1196.3 332.6L1196.1 333.4L1195.8 334.2L1195.5 334.9L1194.9 335.6L1194.2 336.3L1193.1 337L1191.7 337.7L1190 338.5L1188.1 339.2L1186.3 340L1184.5 340.8L1182.8 341.6L1181.1 342.4L1179.4 343.3L1177.8 344.1L1176.3 345L1175.1 345.7L1174.1 346.5L1173.3 347.3L1172.7 348.1L1172.3 348.7L1172.1 349.1L1171.9 349.3L1171.5 350.4L1171.7 351.6L1172.5 352.4L1173.6 352.8L1174.7 352.6L1175.6 351.9L1175.9 351.5L1176.1 351L1176.4 350.6L1176.6 350.2L1177 349.8L1177.7 349.2L1178.7 348.5L1179.9 347.6L1181.4 346.6L1182.9 345.6L1184.5 344.6L1186 343.7L1187.6 342.9L1189.3 342.1L1191.2 341.3L1193 340.5L1194.7 339.7L1196.1 338.8L1197.3 337.7L1198.1 336.6L1198.7 335.5L1199.2 334.4L1199.5 333.3L1199.7 332.1L1199.8 330.8L1199.7 329.4L1199.5 328L1199.3 326.7L1199.1 325.7L1199 325ZM1218.3 330.5L1218.5 331.1L1218.6 332L1218.8 333.2L1219.2 334.6L1219.9 336L1221.2 337.3L1222.8 338.2L1224.7 339L1226.8 339.6L1228.8 340.2L1230.7 340.7L1232.2 341.2L1233.5 341.8L1234.9 342.3L1236 342.9L1236.9 343.3L1237.4 343.7L1237.4 343.8L1237.4 343.6L1237.4 343.6L1237.3 343.8L1236.8 344.2L1236.1 344.6L1235 345L1233.4 345.4L1231.1 345.8L1228.6 346.1L1225.9 346.4L1223.4 346.8L1221.3 347.2L1219.5 347.7L1217.9 348.1L1216.4 348.7L1215 349.3L1213.8 350.2L1212.8 351.6L1212.8 353.5L1213.5 355L1214.4 356.2L1215.4 357.2L1216.2 358.1L1216.9 358.9L1217.6 359.7L1218.4 360.4L1219.1 361L1219.4 361.2L1219.1 360.7L1219.5 359.3L1219.6 359.2L1218.7 359.5L1217.5 359.8L1216.1 360.2L1214.9 360.5L1214 360.7L1213 361.3L1212.5 362.3L1212.5 363.4L1213 364.4L1214 365L1215.2 365L1216 364.8L1217.2 364.5L1218.7 364.1L1220.1 363.7L1221.5 363.1L1222.9 362.1L1223.4 359.8L1222.6 358.4L1221.8 357.7L1221.1 357.1L1220.5 356.7L1220 356.1L1219.2 355.3L1218.3 354.4L1217.4 353.6L1216.7 352.8L1216.5 352.5L1216.4 352.7L1216.4 352.8L1216.9 352.4L1217.8 352L1219 351.4L1220.5 350.9L1222.1 350.4L1224 350L1226.4 349.6L1229 349.2L1231.6 348.8L1234 348.5L1235.9 348L1237.4 347.4L1238.6 346.8L1239.5 346L1240.2 345L1240.5 343.8L1240.3 342.5L1239.6 341.4L1238.6 340.7L1237.4 340L1236.1 339.4L1234.8 338.9L1233.3 338.3L1231.7 337.6L1229.7 337.1L1227.7 336.5L1225.8 335.9L1224.2 335.3L1223.1 334.7L1222.6 334.1L1222.2 333.4L1222 332.5L1221.8 331.5L1221.7 330.5L1221.6 329.8ZM1246 330.8L1247.5 331.3L1249.5 331.8L1251.9 332.4L1254.4 333.1L1256.8 333.9L1258.8 334.6L1260.5 335.2L1262.1 335.9L1263.6 336.6L1264.9 337.3L1266.1 338.1L1267.1 339L1267.9 339.9L1268.6 341L1269.2 342.2L1269.7 343.5L1270.2 344.8L1270.8 346.1L1271.3 347.4L1271.9 348.8L1272.4 350.2L1272.9 351.5L1273.3 352.6L1273.6 353.4L1274.3 354.3L1275.4 354.8L1276.5 354.6L1277.5 353.9L1277.9 352.9L1277.8 351.7L1277.5 350.9L1277 349.8L1276.5 348.5L1275.8 347.1L1275.1 345.7L1274.4 344.4L1273.7 343.2L1273.1 341.9L1272.3 340.5L1271.5 339.2L1270.5 337.8L1269.3 336.6L1267.9 335.6L1266.5 334.7L1265 333.8L1263.4 333.1L1261.7 332.3L1259.9 331.6L1257.8 330.8L1255.3 330.1L1252.8 329.3L1250.4 328.6L1248.4 328.1L1246.9 327.7ZM1268.4 325.1L1269.4 326L1270.7 327.3L1272.3 328.7L1274 330.2L1275.7 331.7L1277.1 333.1L1278.3 334.3L1279.5 335.4L1280.7 336.5L1281.7 337.6L1282.6 338.7L1283.5 339.9L1284.2 341.1L1284.9 342.4L1285.5 343.8L1286.2 345.2L1286.8 346.5L1287.5 347.7L1288.2 348.6L1288.9 349.4L1289.6 350L1290.2 350.4L1290.6 350.6L1290.8 350.8L1291.9 351.2L1293 351.1L1294 350.3L1294.4 349.2L1294.2 348.1L1293.5 347.2L1293.1 346.9L1292.7 346.6L1292.3 346.4L1291.9 346.1L1291.5 345.7L1291 345.2L1290.4 344.4L1289.7 343.3L1289 342L1288.1 340.6L1287.2 339.2L1286.1 337.9L1285.1 336.6L1284 335.5L1282.9 334.3L1281.7 333.2L1280.5 332L1279.3 330.8L1277.8 329.4L1276.2 327.9L1274.5 326.3L1272.9 324.8L1271.6 323.6L1270.6 322.7ZM1248.3 329.6L1249.6 329.5L1251.5 329.5L1253.8 329.5L1256.1 329.3L1258.3 329.1L1260.3 328.7L1261.8 327.9L1263 327L1263.9 326L1264.5 325L1265.1 324.3L1265.7 323.7L1266.5 323.1L1267.3 322.6L1268 322.1L1268.7 321.6L1269.6 321.3L1270.7 321L1272.1 320.8L1273.9 320.6L1275.8 320.6L1277.7 320.6L1279.6 320.7L1281.2 320.8L1282.7 321.1L1284.2 321.5L1285.6 321.9L1286.9 322.5L1288.1 323.1L1289.2 323.7L1290.1 324.5L1291 325.4L1291.8 326.4L1292.6 327.5L1293.5 328.7L1294.4 329.9L1295.2 331L1296.1 332.2L1297 333.4L1297.9 334.6L1298.8 335.8L1299.8 336.8L1300.8 337.8L1301.9 338.7L1302.9 339.5L1303.9 340.2L1304.6 340.8L1305.1 341.2L1306.2 341.6L1307.4 341.5L1308.3 340.7L1308.7 339.7L1308.6 338.5L1307.8 337.6L1307.3 337.2L1306.5 336.6L1305.6 336L1304.7 335.3L1303.8 334.5L1302.9 333.8L1302.1 332.9L1301.2 331.9L1300.3 330.8L1299.3 329.7L1298.4 328.5L1297.4 327.4L1296.5 326.3L1295.6 325.2L1294.6 324.1L1293.6 322.9L1292.4 321.9L1291.1 320.9L1289.7 320.1L1288.2 319.4L1286.6 318.9L1285 318.4L1283.4 318L1281.7 317.8L1279.8 317.6L1277.8 317.5L1275.7 317.5L1273.7 317.5L1271.8 317.7L1270.1 317.9L1268.6 318.3L1267.4 318.8L1266.3 319.4L1265.4 320L1264.6 320.6L1263.7 321.3L1262.8 322.1L1262 323.1L1261.3 323.9L1260.7 324.6L1260.1 325.2L1259.3 325.6L1257.8 325.9L1255.9 326.1L1253.6 326.2L1251.5 326.2L1249.6 326.2L1248.2 326.3Z" fill="url(#gTR)"/></g><ellipse cx="1224.7" cy="110" rx="25" ry="18.3" transform="rotate(-4 1224.7 110)" fill="url(#gNuc2)" stroke="#1a0a14" stroke-width="2.2"/>
<path d="M212 785H655L643.5 755L803 816.5L643.5 878L655 848H212Z" fill="url(#gYArrow)"/>
<g transform="translate(0 0)"><clipPath id="cliphBL"><path d="M301.3 952.5C304.6 951 313.6 946.2 321.4 943.7C329.1 941.2 336.4 938.7 347.8 937.2C359.2 935.7 374.6 934.9 390 934.5C405.4 934.1 425.3 937 440 935C454.7 933 469.1 927.5 478.3 922.5C487.5 917.5 488.9 912.1 495.4 905.3C501.9 898.5 513.6 885.7 517.3 881.8C517.8 885.7 519.1 897.3 520 905C520.9 912.7 521.1 921.8 522.5 927.8C523.9 933.8 525.4 937.3 528.4 941C531.4 944.7 535.2 948 540.3 950.2C545.3 952.4 551.2 953.3 558.7 954.2C566.2 955.1 577.4 954.4 585.1 955.5C592.8 956.6 598.6 959 605 960.8C611.4 962.6 620.5 965.4 623.6 966.3C619.4 967.3 606.9 970.7 598.3 972.6C589.7 974.5 578.9 975.9 571.9 977.9C564.9 979.9 561.4 981.4 556.1 984.5C550.8 987.6 545.6 992.4 540.3 996.4C535 1000.4 530.3 1004.8 524.4 1008.6C518.5 1012.4 510.8 1016.7 505 1019.4C499.2 1022.1 495.6 1023.4 489.5 1024.6C483.4 1025.8 474.4 1025.3 468.6 1026.7C462.9 1028.1 458.5 1029.9 455 1033C451.5 1036.1 450.2 1040.3 447.8 1045.5C445.4 1050.7 443 1058.5 440.5 1064.2C438 1069.9 435.6 1075.5 433 1079.5C430.4 1083.5 426.2 1086.9 424.8 1088.4C423.9 1085.3 420.9 1075.8 419.5 1070C418.1 1064.2 417.1 1061.2 416.5 1053.8C415.9 1046.4 417.1 1034.7 416 1025.6C414.9 1016.5 412.8 1006.2 409.8 999.2C406.8 992.2 402.7 987.7 397.9 983.3C393.1 978.9 388.1 976.1 380.8 972.8C373.6 969.5 363.2 965.9 354.4 963.5C345.6 961.1 336.9 960.1 328 958.3C319.1 956.5 305.8 953.5 301.3 952.5Z"/></clipPath><path d="M301.3 952.5C304.6 951 313.6 946.2 321.4 943.7C329.1 941.2 336.4 938.7 347.8 937.2C359.2 935.7 374.6 934.9 390 934.5C405.4 934.1 425.3 937 440 935C454.7 933 469.1 927.5 478.3 922.5C487.5 917.5 488.9 912.1 495.4 905.3C501.9 898.5 513.6 885.7 517.3 881.8C517.8 885.7 519.1 897.3 520 905C520.9 912.7 521.1 921.8 522.5 927.8C523.9 933.8 525.4 937.3 528.4 941C531.4 944.7 535.2 948 540.3 950.2C545.3 952.4 551.2 953.3 558.7 954.2C566.2 955.1 577.4 954.4 585.1 955.5C592.8 956.6 598.6 959 605 960.8C611.4 962.6 620.5 965.4 623.6 966.3C619.4 967.3 606.9 970.7 598.3 972.6C589.7 974.5 578.9 975.9 571.9 977.9C564.9 979.9 561.4 981.4 556.1 984.5C550.8 987.6 545.6 992.4 540.3 996.4C535 1000.4 530.3 1004.8 524.4 1008.6C518.5 1012.4 510.8 1016.7 505 1019.4C499.2 1022.1 495.6 1023.4 489.5 1024.6C483.4 1025.8 474.4 1025.3 468.6 1026.7C462.9 1028.1 458.5 1029.9 455 1033C451.5 1036.1 450.2 1040.3 447.8 1045.5C445.4 1050.7 443 1058.5 440.5 1064.2C438 1069.9 435.6 1075.5 433 1079.5C430.4 1083.5 426.2 1086.9 424.8 1088.4C423.9 1085.3 420.9 1075.8 419.5 1070C418.1 1064.2 417.1 1061.2 416.5 1053.8C415.9 1046.4 417.1 1034.7 416 1025.6C414.9 1016.5 412.8 1006.2 409.8 999.2C406.8 992.2 402.7 987.7 397.9 983.3C393.1 978.9 388.1 976.1 380.8 972.8C373.6 969.5 363.2 965.9 354.4 963.5C345.6 961.1 336.9 960.1 328 958.3C319.1 956.5 305.8 953.5 301.3 952.5Z" fill="url(#gHeart)" stroke="#14040c" stroke-width="2.4" stroke-linejoin="miter"/><g clip-path="url(#cliphBL)" fill="none" stroke="#d22a42" stroke-width="3" stroke-linecap="round"><path d="M331.9 948.4C334.1 948.6 341.4 948.9 345.1 949.7C348.9 950.5 352.8 952.5 354.4 953"/><path d="M366.2 957C368.8 957.6 379.4 960.2 382 960.9"/><path d="M380.8 953C383.2 954.8 391.1 959.8 395.3 963.5C399.5 967.2 404.1 973.4 405.8 975.4"/><path d="M390 943.7C393.9 944.2 405.4 946.2 413.7 946.4C422 946.6 435.6 945.2 440 945"/><path d="M405 979.8C406.7 982.2 412.8 988.7 415.4 994.4C418 1000.1 419.3 1006 420.7 1014.2C422.1 1022.4 422.9 1035.1 423.8 1043.4C424.7 1051.7 425.5 1060.7 425.9 1064.2"/><path d="M414.4 970.4C416.1 972.1 422 976.8 424.8 980.8C427.6 984.8 429.4 990.2 431 994.4C432.6 998.6 433 1003.5 434.2 1005.9C435.4 1008.3 437 1009 438.4 1009C439.8 1009 441.8 1006.4 442.5 1005.9"/><path d="M432.1 974.6C433.8 975.8 440.8 980.7 442.5 981.9"/><path d="M441.5 1006.9C440.3 1008.8 436.1 1014.4 434.2 1018.4C432.3 1022.4 430.5 1027.2 430 1030.9C429.5 1034.6 430.8 1038.7 431 1040.3"/><path d="M461.3 1012.1C459.1 1013.5 451.6 1016.7 447.8 1020.5C444 1024.3 441 1029.8 438.4 1035C435.8 1040.2 433.2 1048.9 432.1 1051.7"/><path d="M519.7 1000.7C513.8 1003 493.2 1010.4 484.2 1014.2C475.2 1018 468.6 1022 465.5 1023.6"/><path d="M519.7 995.4C515.5 997 502.4 1002 494.7 1004.8C487 1007.6 477.3 1010.9 473.8 1012.1"/><path d="M411.3 961C416.5 962 435.9 965.7 442.5 967.3C449.1 968.9 449.5 969.9 450.9 970.4"/><path d="M393.6 962C394.8 963.2 399.6 968.2 400.8 969.4"/><path d="M507.3 903.4C507.9 907 509.1 918.4 511.2 925.1C513.3 931.8 518.4 940.5 519.8 943.6"/><path d="M465 933C467.4 932.6 477.2 930.8 479.6 930.4"/><path d="M491.5 946.9C496.1 947.9 510.4 950.9 519.2 952.8C528 954.7 540 957.2 544.2 958.1"/><path d="M440 954.2C446.6 955.1 465.5 957.6 479.6 959.4C493.7 961.1 511.2 963.8 524.4 964.7C537.6 965.6 550.2 965.2 558.7 964.7C567.2 964.2 572.5 962 575.2 961.4"/><path d="M517.8 976.6C524.6 975.5 546.6 971.9 558.7 970C570.8 968.1 585.1 966.2 590.4 965.4"/><path d="M519.2 987.2C524 985.9 543.4 980.5 548.2 979.2"/><path d="M513.9 995C516.8 994.4 528.1 991.8 531 991.1"/><path d="M506 1005.6C508.2 1005 517 1002.4 519.2 1001.7"/><path d="M438.8 951.7C443.4 952.4 461.9 955 466.5 955.6"/><path d="M440 946.2C444.4 946 462 945.2 466.4 945"/><path d="M340 955C343 955.8 352.7 957.7 358 959.5C363.3 961.3 369.7 964.9 372 966"/><path d="M356 944.5C358.7 944.8 369.3 946.2 372 946.5"/><path d="M498 918C498.7 920.3 501.3 929.7 502 932"/></g><ellipse cx="480" cy="988" rx="36" ry="23" transform="rotate(-8 480 988)" fill="url(#gHNuc)" stroke="#1a0a14" stroke-width="2.3"/></g>
<linearGradient id="gBL" gradientUnits="userSpaceOnUse" x1="40" y1="0" x2="500" y2="0"><stop offset="0" stop-color="#d78419"/><stop offset="0.2" stop-color="#e3941f"/><stop offset="0.34" stop-color="#f0a72a"/><stop offset="0.6" stop-color="#eea62a"/><stop offset="0.8" stop-color="#e2951e"/><stop offset="1" stop-color="#dd8c1c"/></linearGradient>
<linearGradient id="gBLb" gradientUnits="userSpaceOnUse" x1="345" y1="0" x2="512" y2="0"><stop offset="0" stop-color="#e49a22"/><stop offset="0.45" stop-color="#f0ab2c"/><stop offset="1" stop-color="#de8a1c"/></linearGradient>
<g id="nbl" fill="none" stroke-linecap="round" stroke-linejoin="round"><path d="M40.5 817.8C43.8 816.7 54.6 814 60 811C65.4 808 70.6 804.3 73 800C75.4 795.7 75.1 790.4 74.5 785C73.9 779.6 70.2 770.7 69.4 767.8C71.2 769.5 76 775.2 80 778C84 780.8 87.5 783 93.4 784.5C99.3 786 108.9 787.8 115.6 786.7C122.3 785.6 128.2 781.9 133.4 777.8C138.6 773.7 143.1 766.5 147 762C150.9 757.5 155.2 752.4 156.8 750.5C157.2 752.9 157.7 760.6 159 765C160.3 769.4 160.2 772.7 164.5 776.7C168.8 780.7 177.9 786.7 184.6 788.9C191.3 791.1 198.2 791.2 204.6 790C211 788.8 219.8 783 222.8 781.6C220.8 783.5 213.7 789.7 211 793C208.3 796.3 207.9 797.5 206.8 801.2C205.7 804.9 200 810.9 204.6 815C209.2 819.1 229.6 824.2 234.6 826.1C229.6 827.3 214.4 829.8 204.6 833.4C194.8 837 182.8 842.9 175.7 847.9C168.6 852.9 165.4 857.1 162 863.4C158.6 869.7 156.7 876.4 155.2 885.7C153.7 895 153.2 908.3 152.8 919C152.4 929.7 152.3 942 152.6 950C152.9 958 153.3 962.1 154.6 967C155.9 971.9 158 976.2 160.5 979.5C163 982.8 166.4 985.6 169.5 986.6C172.6 987.6 172.2 988.3 179 985.4C185.8 982.5 196.5 975.9 210 969.4C223.5 962.9 238.3 956.3 260 946.1C281.7 935.9 322.5 916.2 340 908.2C357.5 900.2 356.7 901.1 365 898.1C373.3 895.1 383.3 892.1 390 890.5C396.7 888.9 401 888.4 405 888.6C409 888.9 411.3 890 414 892C416.7 894 419 897.2 421 900.7C423 904.2 424.4 909.3 425.8 913C427.2 916.7 427.9 920.2 429.6 923C431.3 925.8 433.6 928.2 436 930C438.4 931.8 443.3 932.1 444 933.5C444.7 934.9 443.2 937.4 440 938.3C436.8 939.2 430.3 939 425 939C419.7 939 412.5 939 408 938.5C403.5 938 399.2 937.1 398 936.2C396.8 935.3 399 934.5 401 933.3C403 932 407.7 930.9 410 928.7C412.3 926.5 414 923.1 414.7 920C415.4 916.9 415.2 913.2 414.2 909.8C413.2 906.4 410.9 902 408.5 899.8C406.1 897.6 403.1 896.8 400 896.4C396.9 896 395.8 896.4 390 897.7C384.2 899.1 373.3 901.7 365 904.5C356.7 907.3 357.5 906 340 914.4C322.5 922.8 281.7 944.1 260 955.1C238.3 966.1 223.6 973 210 980.1C196.4 987.2 183.8 994.7 178.5 997.6C176.8 997.4 171.4 997.4 168 996.5C164.6 995.6 162.1 995.8 158 992.4C153.9 989 146.6 983 143.2 976.3C139.8 969.6 138.7 963.8 137.5 952.4C136.3 941 136.9 919.4 136 907.9C135.1 896.4 134.2 890.8 132 883.4C129.8 876 126.8 868 123 863.8C119.2 859.5 113.7 859.5 109 857.9C104.3 856.3 98.5 854.6 95 854.3C91.5 854 89 856 87.8 856.3C88.4 853.8 91.9 845.6 91.5 841.2C91.1 836.8 90.1 833.1 85.6 830C81.1 826.9 72 824.3 64.5 822.3C57 820.3 44.5 818.5 40.5 817.8ZM412.3 933.1L409.8 932.7L406.3 932.2L402.2 931.5L397.9 930.9L393.8 930.3L390.2 929.8L387.3 929.4L384.6 929.1L382.1 928.9L379.8 928.7L377.5 928.6L375.1 928.4L372.7 928.2L370.3 928L367.9 927.8L365.5 927.7L363.3 927.6L361.2 927.6L359.3 927.7L357.4 927.8L355.7 928L354.1 928.3L352.6 928.7L351.3 929.2L350.1 929.9L349.1 930.9L348.4 931.9L348 933.1L347.8 934.1L347.8 935.2L348 936.5L348.4 937.6L349 938.6L349.6 939.5L350.2 940.4L350.8 941.2L351.6 942.1L352.4 943L353.3 943.8L354 944.5L354.7 945.1L355.1 945.5L356.3 946.1L357.7 946.1L358.8 945.4L359.4 944.2L359.4 942.8L358.7 941.7L358.2 941.2L357.5 940.7L356.8 940L356 939.3L355.3 938.6L354.8 938L354.2 937.3L353.7 936.6L353.2 936L352.9 935.4L352.7 935L352.6 934.8L352.6 934.5L352.6 934.2L352.7 934L352.7 933.9L352.9 933.6L353.3 933.4L354.1 933L355.2 932.7L356.5 932.3L358 932L359.6 931.8L361.4 931.6L363.3 931.5L365.4 931.5L367.7 931.6L370 931.7L372.5 931.8L374.9 932L377.2 932.2L379.5 932.3L381.8 932.5L384.3 932.8L386.9 933.1L389.8 933.4L393.2 933.9L397.3 934.6L401.6 935.2L405.7 935.9L409.2 936.5L411.7 936.9ZM380.6 932.8L380.8 933.7L381 934.8L381.2 936.2L381.4 937.5L381.5 938.7L381.4 939.8L381.3 940.7L381 941.7L380.7 942.5L380.3 943.3L379.7 944.1L378.9 944.9L377.7 945.7L376 946.5L374.1 947.3L372 948.2L369.9 949L367.9 949.9L366 950.8L364.1 951.8L362.1 952.7L360.3 953.7L358.7 954.6L357.3 955.5L356.2 956.4L355.2 957.3L354.6 958.1L354.1 958.8L353.8 959.3L353.7 959.5L353.2 960.8L353.4 962.1L354.3 963.1L355.6 963.6L356.9 963.4L357.9 962.5L358.2 962L358.5 961.5L358.8 961.1L359.1 960.7L359.6 960.2L360.3 959.5L361.4 958.7L362.8 957.7L364.4 956.6L366.2 955.5L368 954.4L369.7 953.3L371.4 952.4L373.4 951.5L375.5 950.6L377.6 949.8L379.5 948.8L381.1 947.7L382.4 946.6L383.4 945.3L384.1 944.1L384.6 942.8L384.9 941.5L385.2 940.2L385.3 938.7L385.2 937.1L385 935.6L384.7 934.1L384.5 933L384.4 932.2ZM406.1 938.4L406.3 939.1L406.4 940.1L406.6 941.5L407.1 943L408 944.7L409.4 946.1L411.2 947.2L413.4 948L415.7 948.7L418 949.3L420.1 949.9L421.8 950.5L423.4 951.2L424.8 951.8L426.1 952.4L427.1 952.9L427.7 953.3L427.7 953.3L427.7 953.1L427.7 953.1L427.5 953.3L427.1 953.7L426.2 954.2L425 954.7L423.1 955.1L420.7 955.5L417.8 955.9L414.8 956.3L411.9 956.7L409.5 957.1L407.5 957.6L405.7 958.2L403.9 958.8L402.4 959.5L401 960.5L399.9 962.2L399.9 964.3L400.7 966L401.7 967.3L402.8 968.5L403.8 969.5L404.5 970.4L405.3 971.3L406.3 972.1L407 972.7L407.3 973L407 972.4L407.4 970.8L407.6 970.6L406.6 971L405.2 971.3L403.7 971.7L402.3 972L401.3 972.3L400.2 973L399.5 974.1L399.5 975.5L400.2 976.6L401.3 977.3L402.7 977.3L403.6 977.1L404.9 976.7L406.6 976.3L408.2 975.8L409.8 975.2L411.4 974L412 971.4L411.1 969.7L410.2 968.9L409.4 968.3L408.7 967.8L408.1 967.2L407.2 966.3L406.2 965.3L405.2 964.3L404.4 963.5L404.1 963.1L404.1 963.4L404.1 963.5L404.6 963.1L405.6 962.6L407 962L408.7 961.4L410.5 960.9L412.6 960.4L415.3 959.9L418.2 959.5L421.2 959.1L423.9 958.7L426 958.1L427.7 957.5L429.1 956.7L430.2 955.8L431 954.7L431.3 953.3L431.1 951.9L430.2 950.7L429.1 949.8L427.8 949.1L426.3 948.4L424.8 947.8L423.2 947.1L421.3 946.4L419 945.7L416.8 945.1L414.6 944.4L412.8 943.7L411.6 943.1L411 942.5L410.6 941.6L410.4 940.6L410.2 939.5L410 938.4L409.9 937.6ZM437.5 938.8L439.1 939.3L441.4 939.9L444.1 940.6L446.9 941.4L449.6 942.2L451.9 943L453.8 943.8L455.6 944.5L457.3 945.3L458.8 946.1L460.1 947L461.2 948L462.1 949L462.9 950.2L463.6 951.6L464.2 953L464.8 954.5L465.4 956L466 957.5L466.6 959L467.2 960.6L467.8 962L468.2 963.3L468.6 964.2L469.4 965.3L470.6 965.8L472 965.6L473.1 964.8L473.6 963.6L473.4 962.2L473 961.3L472.5 960.1L471.9 958.7L471.2 957.1L470.4 955.5L469.6 954L468.8 952.6L468.1 951.2L467.2 949.7L466.3 948.1L465.1 946.6L463.8 945.2L462.2 944.1L460.6 943L458.9 942.1L457.1 941.2L455.2 940.4L453.1 939.6L450.8 938.7L448 937.9L445.1 937L442.4 936.3L440.1 935.6L438.5 935.2ZM462.7 932.4L463.8 933.4L465.4 934.8L467.2 936.4L469.1 938.1L470.9 939.8L472.5 941.3L474 942.7L475.3 944L476.6 945.2L477.7 946.4L478.8 947.7L479.8 949L480.6 950.3L481.4 951.8L482.1 953.4L482.8 955L483.5 956.4L484.3 957.8L485.1 958.8L485.9 959.7L486.7 960.4L487.4 960.8L487.8 961.1L488.1 961.3L489.3 961.8L490.6 961.6L491.7 960.7L492.2 959.5L492 958.2L491.1 957.1L490.7 956.8L490.3 956.5L489.8 956.2L489.4 955.9L488.9 955.4L488.3 954.8L487.7 954L486.9 952.7L486 951.3L485.1 949.7L484 948.1L482.8 946.6L481.6 945.3L480.4 944L479.1 942.7L477.8 941.4L476.5 940.1L475.1 938.7L473.4 937.1L471.6 935.4L469.7 933.6L467.9 932L466.4 930.6L465.3 929.6ZM440.1 937.4L441.5 937.4L443.7 937.3L446.2 937.3L448.9 937.1L451.4 936.9L453.6 936.4L455.3 935.5L456.7 934.5L457.7 933.3L458.4 932.3L459.1 931.5L459.8 930.8L460.7 930.2L461.5 929.5L462.3 929L463.2 928.5L464.1 928.1L465.3 927.8L467 927.5L468.9 927.4L471.1 927.3L473.3 927.3L475.4 927.4L477.3 927.6L479 927.9L480.6 928.3L482.2 928.8L483.6 929.4L485 930.1L486.2 930.9L487.3 931.7L488.2 932.7L489.1 933.8L490.1 935.1L491 936.4L492.1 937.8L493.1 939L494 940.3L495 941.7L496.1 943.1L497.1 944.4L498.2 945.6L499.4 946.7L500.6 947.7L501.7 948.6L502.8 949.4L503.6 950L504.2 950.5L505.5 951L506.8 950.8L507.9 950L508.4 948.7L508.2 947.4L507.4 946.3L506.7 945.8L505.8 945.2L504.8 944.5L503.8 943.7L502.7 942.9L501.8 942L500.9 941.1L499.9 939.9L498.8 938.7L497.8 937.4L496.7 936.1L495.5 934.8L494.5 933.7L493.5 932.4L492.4 931.1L491.2 929.9L489.9 928.6L488.4 927.5L486.8 926.7L485.1 925.9L483.4 925.3L481.6 924.8L479.7 924.3L477.7 924L475.6 923.8L473.4 923.7L471 923.7L468.7 923.8L466.6 923.9L464.7 924.2L463 924.6L461.6 925.2L460.4 925.8L459.4 926.5L458.4 927.2L457.4 928L456.4 928.9L455.5 930L454.8 931L454.1 931.8L453.4 932.4L452.4 932.8L450.8 933.2L448.6 933.4L446.1 933.5L443.6 933.5L441.5 933.6L439.9 933.6Z" stroke="#140802" stroke-width="4.2"/><path d="M40.5 817.8C43.8 816.7 54.6 814 60 811C65.4 808 70.6 804.3 73 800C75.4 795.7 75.1 790.4 74.5 785C73.9 779.6 70.2 770.7 69.4 767.8C71.2 769.5 76 775.2 80 778C84 780.8 87.5 783 93.4 784.5C99.3 786 108.9 787.8 115.6 786.7C122.3 785.6 128.2 781.9 133.4 777.8C138.6 773.7 143.1 766.5 147 762C150.9 757.5 155.2 752.4 156.8 750.5C157.2 752.9 157.7 760.6 159 765C160.3 769.4 160.2 772.7 164.5 776.7C168.8 780.7 177.9 786.7 184.6 788.9C191.3 791.1 198.2 791.2 204.6 790C211 788.8 219.8 783 222.8 781.6C220.8 783.5 213.7 789.7 211 793C208.3 796.3 207.9 797.5 206.8 801.2C205.7 804.9 200 810.9 204.6 815C209.2 819.1 229.6 824.2 234.6 826.1C229.6 827.3 214.4 829.8 204.6 833.4C194.8 837 182.8 842.9 175.7 847.9C168.6 852.9 165.4 857.1 162 863.4C158.6 869.7 156.7 876.4 155.2 885.7C153.7 895 153.2 908.3 152.8 919C152.4 929.7 152.3 942 152.6 950C152.9 958 153.3 962.1 154.6 967C155.9 971.9 158 976.2 160.5 979.5C163 982.8 166.4 985.6 169.5 986.6C172.6 987.6 172.2 988.3 179 985.4C185.8 982.5 196.5 975.9 210 969.4C223.5 962.9 238.3 956.3 260 946.1C281.7 935.9 322.5 916.2 340 908.2C357.5 900.2 356.7 901.1 365 898.1C373.3 895.1 383.3 892.1 390 890.5C396.7 888.9 401 888.4 405 888.6C409 888.9 411.3 890 414 892C416.7 894 419 897.2 421 900.7C423 904.2 424.4 909.3 425.8 913C427.2 916.7 427.9 920.2 429.6 923C431.3 925.8 433.6 928.2 436 930C438.4 931.8 443.3 932.1 444 933.5C444.7 934.9 443.2 937.4 440 938.3C436.8 939.2 430.3 939 425 939C419.7 939 412.5 939 408 938.5C403.5 938 399.2 937.1 398 936.2C396.8 935.3 399 934.5 401 933.3C403 932 407.7 930.9 410 928.7C412.3 926.5 414 923.1 414.7 920C415.4 916.9 415.2 913.2 414.2 909.8C413.2 906.4 410.9 902 408.5 899.8C406.1 897.6 403.1 896.8 400 896.4C396.9 896 395.8 896.4 390 897.7C384.2 899.1 373.3 901.7 365 904.5C356.7 907.3 357.5 906 340 914.4C322.5 922.8 281.7 944.1 260 955.1C238.3 966.1 223.6 973 210 980.1C196.4 987.2 183.8 994.7 178.5 997.6C176.8 997.4 171.4 997.4 168 996.5C164.6 995.6 162.1 995.8 158 992.4C153.9 989 146.6 983 143.2 976.3C139.8 969.6 138.7 963.8 137.5 952.4C136.3 941 136.9 919.4 136 907.9C135.1 896.4 134.2 890.8 132 883.4C129.8 876 126.8 868 123 863.8C119.2 859.5 113.7 859.5 109 857.9C104.3 856.3 98.5 854.6 95 854.3C91.5 854 89 856 87.8 856.3C88.4 853.8 91.9 845.6 91.5 841.2C91.1 836.8 90.1 833.1 85.6 830C81.1 826.9 72 824.3 64.5 822.3C57 820.3 44.5 818.5 40.5 817.8Z" fill="url(#gBL)"/><path d="M412.3 933.1L409.8 932.7L406.3 932.2L402.2 931.5L397.9 930.9L393.8 930.3L390.2 929.8L387.3 929.4L384.6 929.1L382.1 928.9L379.8 928.7L377.5 928.6L375.1 928.4L372.7 928.2L370.3 928L367.9 927.8L365.5 927.7L363.3 927.6L361.2 927.6L359.3 927.7L357.4 927.8L355.7 928L354.1 928.3L352.6 928.7L351.3 929.2L350.1 929.9L349.1 930.9L348.4 931.9L348 933.1L347.8 934.1L347.8 935.2L348 936.5L348.4 937.6L349 938.6L349.6 939.5L350.2 940.4L350.8 941.2L351.6 942.1L352.4 943L353.3 943.8L354 944.5L354.7 945.1L355.1 945.5L356.3 946.1L357.7 946.1L358.8 945.4L359.4 944.2L359.4 942.8L358.7 941.7L358.2 941.2L357.5 940.7L356.8 940L356 939.3L355.3 938.6L354.8 938L354.2 937.3L353.7 936.6L353.2 936L352.9 935.4L352.7 935L352.6 934.8L352.6 934.5L352.6 934.2L352.7 934L352.7 933.9L352.9 933.6L353.3 933.4L354.1 933L355.2 932.7L356.5 932.3L358 932L359.6 931.8L361.4 931.6L363.3 931.5L365.4 931.5L367.7 931.6L370 931.7L372.5 931.8L374.9 932L377.2 932.2L379.5 932.3L381.8 932.5L384.3 932.8L386.9 933.1L389.8 933.4L393.2 933.9L397.3 934.6L401.6 935.2L405.7 935.9L409.2 936.5L411.7 936.9ZM380.6 932.8L380.8 933.7L381 934.8L381.2 936.2L381.4 937.5L381.5 938.7L381.4 939.8L381.3 940.7L381 941.7L380.7 942.5L380.3 943.3L379.7 944.1L378.9 944.9L377.7 945.7L376 946.5L374.1 947.3L372 948.2L369.9 949L367.9 949.9L366 950.8L364.1 951.8L362.1 952.7L360.3 953.7L358.7 954.6L357.3 955.5L356.2 956.4L355.2 957.3L354.6 958.1L354.1 958.8L353.8 959.3L353.7 959.5L353.2 960.8L353.4 962.1L354.3 963.1L355.6 963.6L356.9 963.4L357.9 962.5L358.2 962L358.5 961.5L358.8 961.1L359.1 960.7L359.6 960.2L360.3 959.5L361.4 958.7L362.8 957.7L364.4 956.6L366.2 955.5L368 954.4L369.7 953.3L371.4 952.4L373.4 951.5L375.5 950.6L377.6 949.8L379.5 948.8L381.1 947.7L382.4 946.6L383.4 945.3L384.1 944.1L384.6 942.8L384.9 941.5L385.2 940.2L385.3 938.7L385.2 937.1L385 935.6L384.7 934.1L384.5 933L384.4 932.2ZM406.1 938.4L406.3 939.1L406.4 940.1L406.6 941.5L407.1 943L408 944.7L409.4 946.1L411.2 947.2L413.4 948L415.7 948.7L418 949.3L420.1 949.9L421.8 950.5L423.4 951.2L424.8 951.8L426.1 952.4L427.1 952.9L427.7 953.3L427.7 953.3L427.7 953.1L427.7 953.1L427.5 953.3L427.1 953.7L426.2 954.2L425 954.7L423.1 955.1L420.7 955.5L417.8 955.9L414.8 956.3L411.9 956.7L409.5 957.1L407.5 957.6L405.7 958.2L403.9 958.8L402.4 959.5L401 960.5L399.9 962.2L399.9 964.3L400.7 966L401.7 967.3L402.8 968.5L403.8 969.5L404.5 970.4L405.3 971.3L406.3 972.1L407 972.7L407.3 973L407 972.4L407.4 970.8L407.6 970.6L406.6 971L405.2 971.3L403.7 971.7L402.3 972L401.3 972.3L400.2 973L399.5 974.1L399.5 975.5L400.2 976.6L401.3 977.3L402.7 977.3L403.6 977.1L404.9 976.7L406.6 976.3L408.2 975.8L409.8 975.2L411.4 974L412 971.4L411.1 969.7L410.2 968.9L409.4 968.3L408.7 967.8L408.1 967.2L407.2 966.3L406.2 965.3L405.2 964.3L404.4 963.5L404.1 963.1L404.1 963.4L404.1 963.5L404.6 963.1L405.6 962.6L407 962L408.7 961.4L410.5 960.9L412.6 960.4L415.3 959.9L418.2 959.5L421.2 959.1L423.9 958.7L426 958.1L427.7 957.5L429.1 956.7L430.2 955.8L431 954.7L431.3 953.3L431.1 951.9L430.2 950.7L429.1 949.8L427.8 949.1L426.3 948.4L424.8 947.8L423.2 947.1L421.3 946.4L419 945.7L416.8 945.1L414.6 944.4L412.8 943.7L411.6 943.1L411 942.5L410.6 941.6L410.4 940.6L410.2 939.5L410 938.4L409.9 937.6ZM437.5 938.8L439.1 939.3L441.4 939.9L444.1 940.6L446.9 941.4L449.6 942.2L451.9 943L453.8 943.8L455.6 944.5L457.3 945.3L458.8 946.1L460.1 947L461.2 948L462.1 949L462.9 950.2L463.6 951.6L464.2 953L464.8 954.5L465.4 956L466 957.5L466.6 959L467.2 960.6L467.8 962L468.2 963.3L468.6 964.2L469.4 965.3L470.6 965.8L472 965.6L473.1 964.8L473.6 963.6L473.4 962.2L473 961.3L472.5 960.1L471.9 958.7L471.2 957.1L470.4 955.5L469.6 954L468.8 952.6L468.1 951.2L467.2 949.7L466.3 948.1L465.1 946.6L463.8 945.2L462.2 944.1L460.6 943L458.9 942.1L457.1 941.2L455.2 940.4L453.1 939.6L450.8 938.7L448 937.9L445.1 937L442.4 936.3L440.1 935.6L438.5 935.2ZM462.7 932.4L463.8 933.4L465.4 934.8L467.2 936.4L469.1 938.1L470.9 939.8L472.5 941.3L474 942.7L475.3 944L476.6 945.2L477.7 946.4L478.8 947.7L479.8 949L480.6 950.3L481.4 951.8L482.1 953.4L482.8 955L483.5 956.4L484.3 957.8L485.1 958.8L485.9 959.7L486.7 960.4L487.4 960.8L487.8 961.1L488.1 961.3L489.3 961.8L490.6 961.6L491.7 960.7L492.2 959.5L492 958.2L491.1 957.1L490.7 956.8L490.3 956.5L489.8 956.2L489.4 955.9L488.9 955.4L488.3 954.8L487.7 954L486.9 952.7L486 951.3L485.1 949.7L484 948.1L482.8 946.6L481.6 945.3L480.4 944L479.1 942.7L477.8 941.4L476.5 940.1L475.1 938.7L473.4 937.1L471.6 935.4L469.7 933.6L467.9 932L466.4 930.6L465.3 929.6ZM440.1 937.4L441.5 937.4L443.7 937.3L446.2 937.3L448.9 937.1L451.4 936.9L453.6 936.4L455.3 935.5L456.7 934.5L457.7 933.3L458.4 932.3L459.1 931.5L459.8 930.8L460.7 930.2L461.5 929.5L462.3 929L463.2 928.5L464.1 928.1L465.3 927.8L467 927.5L468.9 927.4L471.1 927.3L473.3 927.3L475.4 927.4L477.3 927.6L479 927.9L480.6 928.3L482.2 928.8L483.6 929.4L485 930.1L486.2 930.9L487.3 931.7L488.2 932.7L489.1 933.8L490.1 935.1L491 936.4L492.1 937.8L493.1 939L494 940.3L495 941.7L496.1 943.1L497.1 944.4L498.2 945.6L499.4 946.7L500.6 947.7L501.7 948.6L502.8 949.4L503.6 950L504.2 950.5L505.5 951L506.8 950.8L507.9 950L508.4 948.7L508.2 947.4L507.4 946.3L506.7 945.8L505.8 945.2L504.8 944.5L503.8 943.7L502.7 942.9L501.8 942L500.9 941.1L499.9 939.9L498.8 938.7L497.8 937.4L496.7 936.1L495.5 934.8L494.5 933.7L493.5 932.4L492.4 931.1L491.2 929.9L489.9 928.6L488.4 927.5L486.8 926.7L485.1 925.9L483.4 925.3L481.6 924.8L479.7 924.3L477.7 924L475.6 923.8L473.4 923.7L471 923.7L468.7 923.8L466.6 923.9L464.7 924.2L463 924.6L461.6 925.2L460.4 925.8L459.4 926.5L458.4 927.2L457.4 928L456.4 928.9L455.5 930L454.8 931L454.1 931.8L453.4 932.4L452.4 932.8L450.8 933.2L448.6 933.4L446.1 933.5L443.6 933.5L441.5 933.6L439.9 933.6Z" fill="url(#gBL)"/></g><ellipse cx="144.5" cy="821.2" rx="28.9" ry="21.1" transform="rotate(-4 144.5 821.2)" fill="url(#gNuc2)" stroke="#1a0a14" stroke-width="2.2"/>
<g transform="translate(730.5 0)"><clipPath id="cliphBR"><path d="M301.3 952.5C304.6 951 313.6 946.2 321.4 943.7C329.1 941.2 336.4 938.7 347.8 937.2C359.2 935.7 374.6 934.9 390 934.5C405.4 934.1 425.3 937 440 935C454.7 933 469.1 927.5 478.3 922.5C487.5 917.5 488.9 912.1 495.4 905.3C501.9 898.5 513.6 885.7 517.3 881.8C517.8 885.7 519.1 897.3 520 905C520.9 912.7 521.1 921.8 522.5 927.8C523.9 933.8 525.4 937.3 528.4 941C531.4 944.7 535.2 948 540.3 950.2C545.3 952.4 551.2 953.3 558.7 954.2C566.2 955.1 577.4 954.4 585.1 955.5C592.8 956.6 598.6 959 605 960.8C611.4 962.6 620.5 965.4 623.6 966.3C619.4 967.3 606.9 970.7 598.3 972.6C589.7 974.5 578.9 975.9 571.9 977.9C564.9 979.9 561.4 981.4 556.1 984.5C550.8 987.6 545.6 992.4 540.3 996.4C535 1000.4 530.3 1004.8 524.4 1008.6C518.5 1012.4 510.8 1016.7 505 1019.4C499.2 1022.1 495.6 1023.4 489.5 1024.6C483.4 1025.8 474.4 1025.3 468.6 1026.7C462.9 1028.1 458.5 1029.9 455 1033C451.5 1036.1 450.2 1040.3 447.8 1045.5C445.4 1050.7 443 1058.5 440.5 1064.2C438 1069.9 435.6 1075.5 433 1079.5C430.4 1083.5 426.2 1086.9 424.8 1088.4C423.9 1085.3 420.9 1075.8 419.5 1070C418.1 1064.2 417.1 1061.2 416.5 1053.8C415.9 1046.4 417.1 1034.7 416 1025.6C414.9 1016.5 412.8 1006.2 409.8 999.2C406.8 992.2 402.7 987.7 397.9 983.3C393.1 978.9 388.1 976.1 380.8 972.8C373.6 969.5 363.2 965.9 354.4 963.5C345.6 961.1 336.9 960.1 328 958.3C319.1 956.5 305.8 953.5 301.3 952.5Z"/></clipPath><path d="M301.3 952.5C304.6 951 313.6 946.2 321.4 943.7C329.1 941.2 336.4 938.7 347.8 937.2C359.2 935.7 374.6 934.9 390 934.5C405.4 934.1 425.3 937 440 935C454.7 933 469.1 927.5 478.3 922.5C487.5 917.5 488.9 912.1 495.4 905.3C501.9 898.5 513.6 885.7 517.3 881.8C517.8 885.7 519.1 897.3 520 905C520.9 912.7 521.1 921.8 522.5 927.8C523.9 933.8 525.4 937.3 528.4 941C531.4 944.7 535.2 948 540.3 950.2C545.3 952.4 551.2 953.3 558.7 954.2C566.2 955.1 577.4 954.4 585.1 955.5C592.8 956.6 598.6 959 605 960.8C611.4 962.6 620.5 965.4 623.6 966.3C619.4 967.3 606.9 970.7 598.3 972.6C589.7 974.5 578.9 975.9 571.9 977.9C564.9 979.9 561.4 981.4 556.1 984.5C550.8 987.6 545.6 992.4 540.3 996.4C535 1000.4 530.3 1004.8 524.4 1008.6C518.5 1012.4 510.8 1016.7 505 1019.4C499.2 1022.1 495.6 1023.4 489.5 1024.6C483.4 1025.8 474.4 1025.3 468.6 1026.7C462.9 1028.1 458.5 1029.9 455 1033C451.5 1036.1 450.2 1040.3 447.8 1045.5C445.4 1050.7 443 1058.5 440.5 1064.2C438 1069.9 435.6 1075.5 433 1079.5C430.4 1083.5 426.2 1086.9 424.8 1088.4C423.9 1085.3 420.9 1075.8 419.5 1070C418.1 1064.2 417.1 1061.2 416.5 1053.8C415.9 1046.4 417.1 1034.7 416 1025.6C414.9 1016.5 412.8 1006.2 409.8 999.2C406.8 992.2 402.7 987.7 397.9 983.3C393.1 978.9 388.1 976.1 380.8 972.8C373.6 969.5 363.2 965.9 354.4 963.5C345.6 961.1 336.9 960.1 328 958.3C319.1 956.5 305.8 953.5 301.3 952.5Z" fill="url(#gHeart)" stroke="#14040c" stroke-width="2.4" stroke-linejoin="miter"/><g clip-path="url(#cliphBR)" fill="none" stroke="#d22a42" stroke-width="3" stroke-linecap="round"><path d="M331.9 948.4C334.1 948.6 341.4 948.9 345.1 949.7C348.9 950.5 352.8 952.5 354.4 953"/><path d="M366.2 957C368.8 957.6 379.4 960.2 382 960.9"/><path d="M380.8 953C383.2 954.8 391.1 959.8 395.3 963.5C399.5 967.2 404.1 973.4 405.8 975.4"/><path d="M390 943.7C393.9 944.2 405.4 946.2 413.7 946.4C422 946.6 435.6 945.2 440 945"/><path d="M405 979.8C406.7 982.2 412.8 988.7 415.4 994.4C418 1000.1 419.3 1006 420.7 1014.2C422.1 1022.4 422.9 1035.1 423.8 1043.4C424.7 1051.7 425.5 1060.7 425.9 1064.2"/><path d="M414.4 970.4C416.1 972.1 422 976.8 424.8 980.8C427.6 984.8 429.4 990.2 431 994.4C432.6 998.6 433 1003.5 434.2 1005.9C435.4 1008.3 437 1009 438.4 1009C439.8 1009 441.8 1006.4 442.5 1005.9"/><path d="M432.1 974.6C433.8 975.8 440.8 980.7 442.5 981.9"/><path d="M441.5 1006.9C440.3 1008.8 436.1 1014.4 434.2 1018.4C432.3 1022.4 430.5 1027.2 430 1030.9C429.5 1034.6 430.8 1038.7 431 1040.3"/><path d="M461.3 1012.1C459.1 1013.5 451.6 1016.7 447.8 1020.5C444 1024.3 441 1029.8 438.4 1035C435.8 1040.2 433.2 1048.9 432.1 1051.7"/><path d="M519.7 1000.7C513.8 1003 493.2 1010.4 484.2 1014.2C475.2 1018 468.6 1022 465.5 1023.6"/><path d="M519.7 995.4C515.5 997 502.4 1002 494.7 1004.8C487 1007.6 477.3 1010.9 473.8 1012.1"/><path d="M411.3 961C416.5 962 435.9 965.7 442.5 967.3C449.1 968.9 449.5 969.9 450.9 970.4"/><path d="M393.6 962C394.8 963.2 399.6 968.2 400.8 969.4"/><path d="M507.3 903.4C507.9 907 509.1 918.4 511.2 925.1C513.3 931.8 518.4 940.5 519.8 943.6"/><path d="M465 933C467.4 932.6 477.2 930.8 479.6 930.4"/><path d="M491.5 946.9C496.1 947.9 510.4 950.9 519.2 952.8C528 954.7 540 957.2 544.2 958.1"/><path d="M440 954.2C446.6 955.1 465.5 957.6 479.6 959.4C493.7 961.1 511.2 963.8 524.4 964.7C537.6 965.6 550.2 965.2 558.7 964.7C567.2 964.2 572.5 962 575.2 961.4"/><path d="M517.8 976.6C524.6 975.5 546.6 971.9 558.7 970C570.8 968.1 585.1 966.2 590.4 965.4"/><path d="M519.2 987.2C524 985.9 543.4 980.5 548.2 979.2"/><path d="M513.9 995C516.8 994.4 528.1 991.8 531 991.1"/><path d="M506 1005.6C508.2 1005 517 1002.4 519.2 1001.7"/><path d="M438.8 951.7C443.4 952.4 461.9 955 466.5 955.6"/><path d="M440 946.2C444.4 946 462 945.2 466.4 945"/><path d="M340 955C343 955.8 352.7 957.7 358 959.5C363.3 961.3 369.7 964.9 372 966"/><path d="M356 944.5C358.7 944.8 369.3 946.2 372 946.5"/><path d="M498 918C498.7 920.3 501.3 929.7 502 932"/></g><ellipse cx="480" cy="988" rx="36" ry="23" transform="rotate(-8 480 988)" fill="url(#gHNuc)" stroke="#1a0a14" stroke-width="2.3"/></g>
<linearGradient id="gBR" gradientUnits="userSpaceOnUse" x1="770.5" y1="0" x2="970.5" y2="0"><stop offset="0" stop-color="#bf9a30"/><stop offset="0.12" stop-color="#d3b82c"/><stop offset="0.3" stop-color="#e9da1e"/><stop offset="0.5" stop-color="#f6ed14"/><stop offset="1" stop-color="#fbf310"/></linearGradient>
<linearGradient id="gBRb" gradientUnits="userSpaceOnUse" x1="1075.5" y1="0" x2="1242.5" y2="0"><stop offset="0" stop-color="#f9f114"/><stop offset="0.5" stop-color="#f2e920"/><stop offset="0.64" stop-color="#d6c83a"/><stop offset="1" stop-color="#cfc03a"/></linearGradient>
<g id="nbr" fill="none" stroke-linecap="round" stroke-linejoin="round"><path d="M771 817.8C774.2 816.7 785.1 814 790.5 811C795.9 808 801.1 804.3 803.5 800C805.9 795.7 805.6 790.4 805 785C804.4 779.6 800.8 770.7 799.9 767.8C801.7 769.5 806.5 775.2 810.5 778C814.5 780.8 818 783 823.9 784.5C829.8 786 839.4 787.8 846.1 786.7C852.8 785.6 858.7 781.9 863.9 777.8C869.1 773.7 873.6 766.5 877.5 762C881.4 757.5 885.7 752.4 887.3 750.5C887.7 752.9 888.2 760.6 889.5 765C890.8 769.4 890.7 772.7 895 776.7C899.3 780.7 908.4 786.7 915.1 788.9C921.8 791.1 928.7 791.2 935.1 790C941.5 788.8 950.3 783 953.3 781.6C951.3 783.5 944.2 789.7 941.5 793C938.8 796.3 938.4 797.5 937.3 801.2C936.2 804.9 930.5 810.9 935.1 815C939.7 819.1 960.1 824.2 965.1 826.1C960.1 827.3 944.9 829.8 935.1 833.4C925.3 837 913.3 842.9 906.2 847.9C899.1 852.9 895.9 857.1 892.5 863.4C889.1 869.7 887.2 876.4 885.7 885.7C884.2 895 883.7 908.3 883.3 919C882.9 929.7 882.8 942 883.1 950C883.4 958 883.8 962.1 885.1 967C886.4 971.9 888.5 976.2 891 979.5C893.5 982.8 896.9 985.6 900 986.6C903.1 987.6 902.8 988.3 909.5 985.4C916.2 982.5 927 975.9 940.5 969.4C954 962.9 968.8 956.3 990.5 946.1C1012.2 935.9 1053 916.2 1070.5 908.2C1088 900.2 1087.2 901.1 1095.5 898.1C1103.8 895.1 1113.8 892.1 1120.5 890.5C1127.2 888.9 1131.5 888.4 1135.5 888.6C1139.5 888.9 1141.8 890 1144.5 892C1147.2 894 1149.5 897.2 1151.5 900.7C1153.5 904.2 1154.9 909.3 1156.3 913C1157.7 916.7 1158.4 920.2 1160.1 923C1161.8 925.8 1164.1 928.2 1166.5 930C1168.9 931.8 1173.8 932.1 1174.5 933.5C1175.2 934.9 1173.7 937.4 1170.5 938.3C1167.3 939.2 1160.8 939 1155.5 939C1150.2 939 1143 939 1138.5 938.5C1134 938 1129.7 937.1 1128.5 936.2C1127.3 935.3 1129.5 934.5 1131.5 933.3C1133.5 932 1138.2 930.9 1140.5 928.7C1142.8 926.5 1144.5 923.1 1145.2 920C1145.9 916.9 1145.7 913.2 1144.7 909.8C1143.7 906.4 1141.4 902 1139 899.8C1136.6 897.6 1133.6 896.8 1130.5 896.4C1127.4 896 1126.3 896.4 1120.5 897.7C1114.7 899.1 1103.8 901.7 1095.5 904.5C1087.2 907.3 1088 906 1070.5 914.4C1053 922.8 1012.2 944.1 990.5 955.1C968.8 966.1 954.1 973 940.5 980.1C926.9 987.2 914.2 994.7 909 997.6C907.2 997.4 901.9 997.4 898.5 996.5C895.1 995.6 892.6 995.8 888.5 992.4C884.4 989 877.1 983 873.7 976.3C870.3 969.6 869.2 963.8 868 952.4C866.8 941 867.4 919.4 866.5 907.9C865.6 896.4 864.7 890.8 862.5 883.4C860.3 876 857.3 868 853.5 863.8C849.7 859.5 844.2 859.5 839.5 857.9C834.8 856.3 829 854.6 825.5 854.3C822 854 819.5 856 818.3 856.3C818.9 853.8 822.4 845.6 822 841.2C821.6 836.8 820.6 833.1 816.1 830C811.6 826.9 802.5 824.3 795 822.3C787.5 820.3 775 818.5 771 817.8ZM1142.8 933.1L1140.3 932.7L1136.8 932.1L1132.7 931.5L1128.4 930.8L1124.3 930.2L1120.7 929.7L1117.8 929.4L1115.1 929.1L1112.6 928.9L1110.3 928.7L1108 928.5L1105.6 928.4L1103.2 928.2L1100.8 928L1098.4 927.8L1096 927.6L1093.8 927.5L1091.7 927.5L1089.8 927.6L1087.9 927.8L1086.2 928L1084.6 928.3L1083.1 928.7L1081.8 929.2L1080.6 929.9L1079.6 930.8L1078.8 931.9L1078.4 933L1078.2 934.1L1078.2 935.3L1078.5 936.5L1078.9 937.6L1079.4 938.6L1080.1 939.6L1080.7 940.4L1081.3 941.2L1082 942.1L1082.9 943L1083.7 943.8L1084.5 944.6L1085.2 945.1L1085.6 945.5L1086.8 946.2L1088.2 946.1L1089.3 945.4L1090 944.2L1089.9 942.8L1089.2 941.7L1088.7 941.2L1088.1 940.6L1087.3 940L1086.5 939.2L1085.9 938.6L1085.3 938L1084.8 937.3L1084.2 936.6L1083.8 935.9L1083.4 935.4L1083.2 935L1083.2 934.7L1083.2 934.5L1083.2 934.2L1083.2 934L1083.3 933.9L1083.4 933.7L1083.8 933.4L1084.6 933.1L1085.7 932.7L1087 932.4L1088.5 932.1L1090.1 931.8L1091.9 931.7L1093.8 931.6L1095.9 931.6L1098.2 931.6L1100.5 931.7L1103 931.9L1105.4 932L1107.7 932.2L1110 932.4L1112.3 932.6L1114.7 932.8L1117.4 933.1L1120.3 933.5L1123.7 934L1127.8 934.6L1132.1 935.3L1136.2 936L1139.7 936.5L1142.2 936.9ZM1111.1 932.8L1111.2 933.7L1111.4 934.8L1111.7 936.2L1111.9 937.5L1112 938.7L1111.9 939.7L1111.7 940.7L1111.5 941.7L1111.2 942.5L1110.8 943.3L1110.2 944L1109.4 944.8L1108.2 945.6L1106.5 946.4L1104.6 947.3L1102.5 948.1L1100.4 949L1098.4 949.8L1096.5 950.8L1094.5 951.7L1092.6 952.7L1090.8 953.6L1089.2 954.6L1087.8 955.4L1086.6 956.3L1085.7 957.2L1085 958.1L1084.6 958.8L1084.3 959.2L1084.1 959.5L1083.7 960.8L1083.9 962.1L1084.8 963.2L1086.1 963.6L1087.4 963.4L1088.5 962.5L1088.8 962.1L1089.1 961.6L1089.3 961.1L1089.6 960.7L1090.1 960.2L1090.8 959.6L1091.9 958.7L1093.3 957.7L1095 956.6L1096.7 955.5L1098.5 954.4L1100.2 953.4L1102 952.4L1104 951.5L1106 950.7L1108.1 949.8L1110 948.9L1111.6 947.8L1112.9 946.6L1113.9 945.4L1114.6 944.1L1115.1 942.8L1115.4 941.6L1115.7 940.3L1115.8 938.7L1115.7 937.1L1115.5 935.6L1115.3 934.1L1115.1 933L1114.9 932.2ZM1136.6 938.4L1136.7 939.1L1136.9 940.1L1137.1 941.5L1137.6 943.1L1138.4 944.7L1139.8 946.2L1141.7 947.2L1143.9 948L1146.2 948.7L1148.5 949.4L1150.6 950L1152.3 950.6L1153.8 951.2L1155.3 951.8L1156.6 952.4L1157.6 952.9L1158.1 953.3L1158.2 953.4L1158.1 953.1L1158.2 953.1L1158 953.3L1157.5 953.7L1156.7 954.1L1155.5 954.6L1153.6 955.1L1151.1 955.5L1148.3 955.9L1145.3 956.2L1142.4 956.6L1140 957.1L1138 957.6L1136.1 958.1L1134.4 958.7L1132.9 959.5L1131.5 960.5L1130.4 962.1L1130.4 964.3L1131.2 966L1132.2 967.4L1133.3 968.6L1134.3 969.6L1135 970.5L1135.8 971.4L1136.7 972.2L1137.5 972.8L1137.8 973L1137.5 972.4L1137.9 970.8L1138 970.6L1137.1 970.9L1135.7 971.3L1134.2 971.7L1132.8 972L1131.8 972.2L1130.6 972.9L1129.9 974.1L1129.9 975.5L1130.6 976.7L1131.8 977.4L1133.2 977.4L1134.1 977.1L1135.4 976.8L1137.1 976.4L1138.8 975.9L1140.3 975.2L1141.9 974L1142.5 971.4L1141.6 969.7L1140.7 968.9L1139.9 968.3L1139.2 967.7L1138.6 967.1L1137.8 966.3L1136.7 965.2L1135.7 964.3L1135 963.4L1134.7 963.1L1134.6 963.5L1134.6 963.6L1135.1 963.2L1136.1 962.6L1137.5 962.1L1139.2 961.5L1141 960.9L1143.1 960.4L1145.8 960L1148.7 959.5L1151.7 959.1L1154.4 958.7L1156.5 958.2L1158.2 957.5L1159.6 956.8L1160.7 955.9L1161.5 954.7L1161.9 953.3L1161.6 951.8L1160.7 950.6L1159.6 949.8L1158.3 949L1156.8 948.4L1155.3 947.7L1153.7 947L1151.8 946.3L1149.6 945.7L1147.3 945L1145.1 944.4L1143.3 943.7L1142.2 943L1141.6 942.4L1141.2 941.6L1140.9 940.6L1140.7 939.5L1140.6 938.4L1140.4 937.6ZM1168 938.9L1169.6 939.3L1171.9 940L1174.6 940.7L1177.4 941.5L1180.1 942.3L1182.3 943.1L1184.3 943.8L1186.1 944.6L1187.8 945.3L1189.3 946.2L1190.6 947L1191.7 948L1192.6 949.1L1193.4 950.3L1194 951.6L1194.6 953L1195.2 954.6L1195.9 956L1196.5 957.5L1197.1 959L1197.7 960.6L1198.2 962.1L1198.7 963.3L1199 964.2L1199.9 965.3L1201.1 965.8L1202.5 965.7L1203.6 964.8L1204.1 963.6L1204 962.2L1203.6 961.3L1203.1 960.1L1202.5 958.6L1201.7 957.1L1200.9 955.4L1200.1 954L1199.4 952.6L1198.6 951.2L1197.8 949.6L1196.8 948.1L1195.7 946.6L1194.3 945.2L1192.8 944L1191.1 943L1189.4 942L1187.6 941.2L1185.7 940.4L1183.7 939.5L1181.3 938.7L1178.5 937.8L1175.6 937L1172.9 936.2L1170.6 935.6L1169 935.1ZM1193.2 932.4L1194.3 933.4L1195.8 934.8L1197.6 936.4L1199.5 938.2L1201.4 939.8L1203 941.4L1204.4 942.7L1205.8 944L1207 945.2L1208.2 946.5L1209.3 947.7L1210.2 949L1211.1 950.4L1211.8 951.9L1212.5 953.4L1213.2 955L1214 956.5L1214.7 957.8L1215.6 958.9L1216.4 959.7L1217.2 960.4L1217.8 960.9L1218.3 961.1L1218.5 961.3L1219.8 961.8L1221.2 961.6L1222.2 960.8L1222.7 959.5L1222.5 958.1L1221.7 957.1L1221.3 956.8L1220.8 956.5L1220.3 956.2L1219.9 955.8L1219.4 955.4L1218.9 954.8L1218.2 953.9L1217.5 952.7L1216.6 951.3L1215.6 949.7L1214.5 948.1L1213.4 946.6L1212.2 945.2L1210.9 943.9L1209.7 942.6L1208.4 941.3L1207 940L1205.6 938.6L1204 937.1L1202.1 935.4L1200.2 933.6L1198.4 931.9L1196.9 930.5L1195.8 929.6ZM1170.6 937.4L1172 937.4L1174.2 937.4L1176.7 937.3L1179.4 937.2L1181.9 936.9L1184.1 936.4L1185.9 935.6L1187.2 934.5L1188.2 933.3L1189 932.3L1189.6 931.5L1190.3 930.9L1191.2 930.2L1192 929.5L1192.9 929L1193.7 928.5L1194.6 928.1L1195.9 927.8L1197.5 927.6L1199.4 927.4L1201.6 927.3L1203.8 927.3L1205.9 927.4L1207.7 927.6L1209.5 927.9L1211.1 928.4L1212.7 928.9L1214.1 929.5L1215.5 930.1L1216.7 930.9L1217.7 931.7L1218.7 932.7L1219.6 933.9L1220.5 935.1L1221.5 936.5L1222.5 937.8L1223.5 939.1L1224.5 940.4L1225.5 941.7L1226.5 943.1L1227.6 944.4L1228.7 945.6L1229.8 946.7L1231 947.8L1232.2 948.7L1233.3 949.5L1234.1 950.1L1234.7 950.5L1236 951L1237.3 950.8L1238.4 950L1238.9 948.7L1238.7 947.4L1237.9 946.3L1237.2 945.8L1236.4 945.2L1235.4 944.5L1234.3 943.7L1233.3 942.8L1232.3 942L1231.4 941L1230.4 939.9L1229.4 938.7L1228.3 937.4L1227.2 936.1L1226.1 934.8L1225 933.6L1224 932.4L1223 931.1L1221.8 929.8L1220.4 928.6L1218.9 927.5L1217.3 926.6L1215.6 925.9L1213.9 925.2L1212.1 924.7L1210.2 924.3L1208.3 924L1206.1 923.7L1203.9 923.6L1201.5 923.6L1199.2 923.7L1197 923.9L1195.1 924.2L1193.5 924.6L1192.1 925.1L1190.9 925.8L1189.8 926.5L1188.9 927.2L1187.9 927.9L1186.8 928.9L1185.9 930L1185.2 931L1184.6 931.7L1183.8 932.3L1182.9 932.8L1181.3 933.1L1179.1 933.3L1176.6 933.4L1174.1 933.5L1172 933.5L1170.4 933.6Z" stroke="#ffff40" opacity="0.35" stroke-width="6.6"/><path d="M771 817.8C774.2 816.7 785.1 814 790.5 811C795.9 808 801.1 804.3 803.5 800C805.9 795.7 805.6 790.4 805 785C804.4 779.6 800.8 770.7 799.9 767.8C801.7 769.5 806.5 775.2 810.5 778C814.5 780.8 818 783 823.9 784.5C829.8 786 839.4 787.8 846.1 786.7C852.8 785.6 858.7 781.9 863.9 777.8C869.1 773.7 873.6 766.5 877.5 762C881.4 757.5 885.7 752.4 887.3 750.5C887.7 752.9 888.2 760.6 889.5 765C890.8 769.4 890.7 772.7 895 776.7C899.3 780.7 908.4 786.7 915.1 788.9C921.8 791.1 928.7 791.2 935.1 790C941.5 788.8 950.3 783 953.3 781.6C951.3 783.5 944.2 789.7 941.5 793C938.8 796.3 938.4 797.5 937.3 801.2C936.2 804.9 930.5 810.9 935.1 815C939.7 819.1 960.1 824.2 965.1 826.1C960.1 827.3 944.9 829.8 935.1 833.4C925.3 837 913.3 842.9 906.2 847.9C899.1 852.9 895.9 857.1 892.5 863.4C889.1 869.7 887.2 876.4 885.7 885.7C884.2 895 883.7 908.3 883.3 919C882.9 929.7 882.8 942 883.1 950C883.4 958 883.8 962.1 885.1 967C886.4 971.9 888.5 976.2 891 979.5C893.5 982.8 896.9 985.6 900 986.6C903.1 987.6 902.8 988.3 909.5 985.4C916.2 982.5 927 975.9 940.5 969.4C954 962.9 968.8 956.3 990.5 946.1C1012.2 935.9 1053 916.2 1070.5 908.2C1088 900.2 1087.2 901.1 1095.5 898.1C1103.8 895.1 1113.8 892.1 1120.5 890.5C1127.2 888.9 1131.5 888.4 1135.5 888.6C1139.5 888.9 1141.8 890 1144.5 892C1147.2 894 1149.5 897.2 1151.5 900.7C1153.5 904.2 1154.9 909.3 1156.3 913C1157.7 916.7 1158.4 920.2 1160.1 923C1161.8 925.8 1164.1 928.2 1166.5 930C1168.9 931.8 1173.8 932.1 1174.5 933.5C1175.2 934.9 1173.7 937.4 1170.5 938.3C1167.3 939.2 1160.8 939 1155.5 939C1150.2 939 1143 939 1138.5 938.5C1134 938 1129.7 937.1 1128.5 936.2C1127.3 935.3 1129.5 934.5 1131.5 933.3C1133.5 932 1138.2 930.9 1140.5 928.7C1142.8 926.5 1144.5 923.1 1145.2 920C1145.9 916.9 1145.7 913.2 1144.7 909.8C1143.7 906.4 1141.4 902 1139 899.8C1136.6 897.6 1133.6 896.8 1130.5 896.4C1127.4 896 1126.3 896.4 1120.5 897.7C1114.7 899.1 1103.8 901.7 1095.5 904.5C1087.2 907.3 1088 906 1070.5 914.4C1053 922.8 1012.2 944.1 990.5 955.1C968.8 966.1 954.1 973 940.5 980.1C926.9 987.2 914.2 994.7 909 997.6C907.2 997.4 901.9 997.4 898.5 996.5C895.1 995.6 892.6 995.8 888.5 992.4C884.4 989 877.1 983 873.7 976.3C870.3 969.6 869.2 963.8 868 952.4C866.8 941 867.4 919.4 866.5 907.9C865.6 896.4 864.7 890.8 862.5 883.4C860.3 876 857.3 868 853.5 863.8C849.7 859.5 844.2 859.5 839.5 857.9C834.8 856.3 829 854.6 825.5 854.3C822 854 819.5 856 818.3 856.3C818.9 853.8 822.4 845.6 822 841.2C821.6 836.8 820.6 833.1 816.1 830C811.6 826.9 802.5 824.3 795 822.3C787.5 820.3 775 818.5 771 817.8ZM1142.8 933.1L1140.3 932.7L1136.8 932.1L1132.7 931.5L1128.4 930.8L1124.3 930.2L1120.7 929.7L1117.8 929.4L1115.1 929.1L1112.6 928.9L1110.3 928.7L1108 928.5L1105.6 928.4L1103.2 928.2L1100.8 928L1098.4 927.8L1096 927.6L1093.8 927.5L1091.7 927.5L1089.8 927.6L1087.9 927.8L1086.2 928L1084.6 928.3L1083.1 928.7L1081.8 929.2L1080.6 929.9L1079.6 930.8L1078.8 931.9L1078.4 933L1078.2 934.1L1078.2 935.3L1078.5 936.5L1078.9 937.6L1079.4 938.6L1080.1 939.6L1080.7 940.4L1081.3 941.2L1082 942.1L1082.9 943L1083.7 943.8L1084.5 944.6L1085.2 945.1L1085.6 945.5L1086.8 946.2L1088.2 946.1L1089.3 945.4L1090 944.2L1089.9 942.8L1089.2 941.7L1088.7 941.2L1088.1 940.6L1087.3 940L1086.5 939.2L1085.9 938.6L1085.3 938L1084.8 937.3L1084.2 936.6L1083.8 935.9L1083.4 935.4L1083.2 935L1083.2 934.7L1083.2 934.5L1083.2 934.2L1083.2 934L1083.3 933.9L1083.4 933.7L1083.8 933.4L1084.6 933.1L1085.7 932.7L1087 932.4L1088.5 932.1L1090.1 931.8L1091.9 931.7L1093.8 931.6L1095.9 931.6L1098.2 931.6L1100.5 931.7L1103 931.9L1105.4 932L1107.7 932.2L1110 932.4L1112.3 932.6L1114.7 932.8L1117.4 933.1L1120.3 933.5L1123.7 934L1127.8 934.6L1132.1 935.3L1136.2 936L1139.7 936.5L1142.2 936.9ZM1111.1 932.8L1111.2 933.7L1111.4 934.8L1111.7 936.2L1111.9 937.5L1112 938.7L1111.9 939.7L1111.7 940.7L1111.5 941.7L1111.2 942.5L1110.8 943.3L1110.2 944L1109.4 944.8L1108.2 945.6L1106.5 946.4L1104.6 947.3L1102.5 948.1L1100.4 949L1098.4 949.8L1096.5 950.8L1094.5 951.7L1092.6 952.7L1090.8 953.6L1089.2 954.6L1087.8 955.4L1086.6 956.3L1085.7 957.2L1085 958.1L1084.6 958.8L1084.3 959.2L1084.1 959.5L1083.7 960.8L1083.9 962.1L1084.8 963.2L1086.1 963.6L1087.4 963.4L1088.5 962.5L1088.8 962.1L1089.1 961.6L1089.3 961.1L1089.6 960.7L1090.1 960.2L1090.8 959.6L1091.9 958.7L1093.3 957.7L1095 956.6L1096.7 955.5L1098.5 954.4L1100.2 953.4L1102 952.4L1104 951.5L1106 950.7L1108.1 949.8L1110 948.9L1111.6 947.8L1112.9 946.6L1113.9 945.4L1114.6 944.1L1115.1 942.8L1115.4 941.6L1115.7 940.3L1115.8 938.7L1115.7 937.1L1115.5 935.6L1115.3 934.1L1115.1 933L1114.9 932.2ZM1136.6 938.4L1136.7 939.1L1136.9 940.1L1137.1 941.5L1137.6 943.1L1138.4 944.7L1139.8 946.2L1141.7 947.2L1143.9 948L1146.2 948.7L1148.5 949.4L1150.6 950L1152.3 950.6L1153.8 951.2L1155.3 951.8L1156.6 952.4L1157.6 952.9L1158.1 953.3L1158.2 953.4L1158.1 953.1L1158.2 953.1L1158 953.3L1157.5 953.7L1156.7 954.1L1155.5 954.6L1153.6 955.1L1151.1 955.5L1148.3 955.9L1145.3 956.2L1142.4 956.6L1140 957.1L1138 957.6L1136.1 958.1L1134.4 958.7L1132.9 959.5L1131.5 960.5L1130.4 962.1L1130.4 964.3L1131.2 966L1132.2 967.4L1133.3 968.6L1134.3 969.6L1135 970.5L1135.8 971.4L1136.7 972.2L1137.5 972.8L1137.8 973L1137.5 972.4L1137.9 970.8L1138 970.6L1137.1 970.9L1135.7 971.3L1134.2 971.7L1132.8 972L1131.8 972.2L1130.6 972.9L1129.9 974.1L1129.9 975.5L1130.6 976.7L1131.8 977.4L1133.2 977.4L1134.1 977.1L1135.4 976.8L1137.1 976.4L1138.8 975.9L1140.3 975.2L1141.9 974L1142.5 971.4L1141.6 969.7L1140.7 968.9L1139.9 968.3L1139.2 967.7L1138.6 967.1L1137.8 966.3L1136.7 965.2L1135.7 964.3L1135 963.4L1134.7 963.1L1134.6 963.5L1134.6 963.6L1135.1 963.2L1136.1 962.6L1137.5 962.1L1139.2 961.5L1141 960.9L1143.1 960.4L1145.8 960L1148.7 959.5L1151.7 959.1L1154.4 958.7L1156.5 958.2L1158.2 957.5L1159.6 956.8L1160.7 955.9L1161.5 954.7L1161.9 953.3L1161.6 951.8L1160.7 950.6L1159.6 949.8L1158.3 949L1156.8 948.4L1155.3 947.7L1153.7 947L1151.8 946.3L1149.6 945.7L1147.3 945L1145.1 944.4L1143.3 943.7L1142.2 943L1141.6 942.4L1141.2 941.6L1140.9 940.6L1140.7 939.5L1140.6 938.4L1140.4 937.6ZM1168 938.9L1169.6 939.3L1171.9 940L1174.6 940.7L1177.4 941.5L1180.1 942.3L1182.3 943.1L1184.3 943.8L1186.1 944.6L1187.8 945.3L1189.3 946.2L1190.6 947L1191.7 948L1192.6 949.1L1193.4 950.3L1194 951.6L1194.6 953L1195.2 954.6L1195.9 956L1196.5 957.5L1197.1 959L1197.7 960.6L1198.2 962.1L1198.7 963.3L1199 964.2L1199.9 965.3L1201.1 965.8L1202.5 965.7L1203.6 964.8L1204.1 963.6L1204 962.2L1203.6 961.3L1203.1 960.1L1202.5 958.6L1201.7 957.1L1200.9 955.4L1200.1 954L1199.4 952.6L1198.6 951.2L1197.8 949.6L1196.8 948.1L1195.7 946.6L1194.3 945.2L1192.8 944L1191.1 943L1189.4 942L1187.6 941.2L1185.7 940.4L1183.7 939.5L1181.3 938.7L1178.5 937.8L1175.6 937L1172.9 936.2L1170.6 935.6L1169 935.1ZM1193.2 932.4L1194.3 933.4L1195.8 934.8L1197.6 936.4L1199.5 938.2L1201.4 939.8L1203 941.4L1204.4 942.7L1205.8 944L1207 945.2L1208.2 946.5L1209.3 947.7L1210.2 949L1211.1 950.4L1211.8 951.9L1212.5 953.4L1213.2 955L1214 956.5L1214.7 957.8L1215.6 958.9L1216.4 959.7L1217.2 960.4L1217.8 960.9L1218.3 961.1L1218.5 961.3L1219.8 961.8L1221.2 961.6L1222.2 960.8L1222.7 959.5L1222.5 958.1L1221.7 957.1L1221.3 956.8L1220.8 956.5L1220.3 956.2L1219.9 955.8L1219.4 955.4L1218.9 954.8L1218.2 953.9L1217.5 952.7L1216.6 951.3L1215.6 949.7L1214.5 948.1L1213.4 946.6L1212.2 945.2L1210.9 943.9L1209.7 942.6L1208.4 941.3L1207 940L1205.6 938.6L1204 937.1L1202.1 935.4L1200.2 933.6L1198.4 931.9L1196.9 930.5L1195.8 929.6ZM1170.6 937.4L1172 937.4L1174.2 937.4L1176.7 937.3L1179.4 937.2L1181.9 936.9L1184.1 936.4L1185.9 935.6L1187.2 934.5L1188.2 933.3L1189 932.3L1189.6 931.5L1190.3 930.9L1191.2 930.2L1192 929.5L1192.9 929L1193.7 928.5L1194.6 928.1L1195.9 927.8L1197.5 927.6L1199.4 927.4L1201.6 927.3L1203.8 927.3L1205.9 927.4L1207.7 927.6L1209.5 927.9L1211.1 928.4L1212.7 928.9L1214.1 929.5L1215.5 930.1L1216.7 930.9L1217.7 931.7L1218.7 932.7L1219.6 933.9L1220.5 935.1L1221.5 936.5L1222.5 937.8L1223.5 939.1L1224.5 940.4L1225.5 941.7L1226.5 943.1L1227.6 944.4L1228.7 945.6L1229.8 946.7L1231 947.8L1232.2 948.7L1233.3 949.5L1234.1 950.1L1234.7 950.5L1236 951L1237.3 950.8L1238.4 950L1238.9 948.7L1238.7 947.4L1237.9 946.3L1237.2 945.8L1236.4 945.2L1235.4 944.5L1234.3 943.7L1233.3 942.8L1232.3 942L1231.4 941L1230.4 939.9L1229.4 938.7L1228.3 937.4L1227.2 936.1L1226.1 934.8L1225 933.6L1224 932.4L1223 931.1L1221.8 929.8L1220.4 928.6L1218.9 927.5L1217.3 926.6L1215.6 925.9L1213.9 925.2L1212.1 924.7L1210.2 924.3L1208.3 924L1206.1 923.7L1203.9 923.6L1201.5 923.6L1199.2 923.7L1197 923.9L1195.1 924.2L1193.5 924.6L1192.1 925.1L1190.9 925.8L1189.8 926.5L1188.9 927.2L1187.9 927.9L1186.8 928.9L1185.9 930L1185.2 931L1184.6 931.7L1183.8 932.3L1182.9 932.8L1181.3 933.1L1179.1 933.3L1176.6 933.4L1174.1 933.5L1172 933.5L1170.4 933.6Z" stroke="#f9f51c" stroke-width="3.6"/><path d="M771 817.8C774.2 816.7 785.1 814 790.5 811C795.9 808 801.1 804.3 803.5 800C805.9 795.7 805.6 790.4 805 785C804.4 779.6 800.8 770.7 799.9 767.8C801.7 769.5 806.5 775.2 810.5 778C814.5 780.8 818 783 823.9 784.5C829.8 786 839.4 787.8 846.1 786.7C852.8 785.6 858.7 781.9 863.9 777.8C869.1 773.7 873.6 766.5 877.5 762C881.4 757.5 885.7 752.4 887.3 750.5C887.7 752.9 888.2 760.6 889.5 765C890.8 769.4 890.7 772.7 895 776.7C899.3 780.7 908.4 786.7 915.1 788.9C921.8 791.1 928.7 791.2 935.1 790C941.5 788.8 950.3 783 953.3 781.6C951.3 783.5 944.2 789.7 941.5 793C938.8 796.3 938.4 797.5 937.3 801.2C936.2 804.9 930.5 810.9 935.1 815C939.7 819.1 960.1 824.2 965.1 826.1C960.1 827.3 944.9 829.8 935.1 833.4C925.3 837 913.3 842.9 906.2 847.9C899.1 852.9 895.9 857.1 892.5 863.4C889.1 869.7 887.2 876.4 885.7 885.7C884.2 895 883.7 908.3 883.3 919C882.9 929.7 882.8 942 883.1 950C883.4 958 883.8 962.1 885.1 967C886.4 971.9 888.5 976.2 891 979.5C893.5 982.8 896.9 985.6 900 986.6C903.1 987.6 902.8 988.3 909.5 985.4C916.2 982.5 927 975.9 940.5 969.4C954 962.9 968.8 956.3 990.5 946.1C1012.2 935.9 1053 916.2 1070.5 908.2C1088 900.2 1087.2 901.1 1095.5 898.1C1103.8 895.1 1113.8 892.1 1120.5 890.5C1127.2 888.9 1131.5 888.4 1135.5 888.6C1139.5 888.9 1141.8 890 1144.5 892C1147.2 894 1149.5 897.2 1151.5 900.7C1153.5 904.2 1154.9 909.3 1156.3 913C1157.7 916.7 1158.4 920.2 1160.1 923C1161.8 925.8 1164.1 928.2 1166.5 930C1168.9 931.8 1173.8 932.1 1174.5 933.5C1175.2 934.9 1173.7 937.4 1170.5 938.3C1167.3 939.2 1160.8 939 1155.5 939C1150.2 939 1143 939 1138.5 938.5C1134 938 1129.7 937.1 1128.5 936.2C1127.3 935.3 1129.5 934.5 1131.5 933.3C1133.5 932 1138.2 930.9 1140.5 928.7C1142.8 926.5 1144.5 923.1 1145.2 920C1145.9 916.9 1145.7 913.2 1144.7 909.8C1143.7 906.4 1141.4 902 1139 899.8C1136.6 897.6 1133.6 896.8 1130.5 896.4C1127.4 896 1126.3 896.4 1120.5 897.7C1114.7 899.1 1103.8 901.7 1095.5 904.5C1087.2 907.3 1088 906 1070.5 914.4C1053 922.8 1012.2 944.1 990.5 955.1C968.8 966.1 954.1 973 940.5 980.1C926.9 987.2 914.2 994.7 909 997.6C907.2 997.4 901.9 997.4 898.5 996.5C895.1 995.6 892.6 995.8 888.5 992.4C884.4 989 877.1 983 873.7 976.3C870.3 969.6 869.2 963.8 868 952.4C866.8 941 867.4 919.4 866.5 907.9C865.6 896.4 864.7 890.8 862.5 883.4C860.3 876 857.3 868 853.5 863.8C849.7 859.5 844.2 859.5 839.5 857.9C834.8 856.3 829 854.6 825.5 854.3C822 854 819.5 856 818.3 856.3C818.9 853.8 822.4 845.6 822 841.2C821.6 836.8 820.6 833.1 816.1 830C811.6 826.9 802.5 824.3 795 822.3C787.5 820.3 775 818.5 771 817.8Z" fill="url(#gBR)"/><path d="M1142.8 933.1L1140.3 932.7L1136.8 932.1L1132.7 931.5L1128.4 930.8L1124.3 930.2L1120.7 929.7L1117.8 929.4L1115.1 929.1L1112.6 928.9L1110.3 928.7L1108 928.5L1105.6 928.4L1103.2 928.2L1100.8 928L1098.4 927.8L1096 927.6L1093.8 927.5L1091.7 927.5L1089.8 927.6L1087.9 927.8L1086.2 928L1084.6 928.3L1083.1 928.7L1081.8 929.2L1080.6 929.9L1079.6 930.8L1078.8 931.9L1078.4 933L1078.2 934.1L1078.2 935.3L1078.5 936.5L1078.9 937.6L1079.4 938.6L1080.1 939.6L1080.7 940.4L1081.3 941.2L1082 942.1L1082.9 943L1083.7 943.8L1084.5 944.6L1085.2 945.1L1085.6 945.5L1086.8 946.2L1088.2 946.1L1089.3 945.4L1090 944.2L1089.9 942.8L1089.2 941.7L1088.7 941.2L1088.1 940.6L1087.3 940L1086.5 939.2L1085.9 938.6L1085.3 938L1084.8 937.3L1084.2 936.6L1083.8 935.9L1083.4 935.4L1083.2 935L1083.2 934.7L1083.2 934.5L1083.2 934.2L1083.2 934L1083.3 933.9L1083.4 933.7L1083.8 933.4L1084.6 933.1L1085.7 932.7L1087 932.4L1088.5 932.1L1090.1 931.8L1091.9 931.7L1093.8 931.6L1095.9 931.6L1098.2 931.6L1100.5 931.7L1103 931.9L1105.4 932L1107.7 932.2L1110 932.4L1112.3 932.6L1114.7 932.8L1117.4 933.1L1120.3 933.5L1123.7 934L1127.8 934.6L1132.1 935.3L1136.2 936L1139.7 936.5L1142.2 936.9ZM1111.1 932.8L1111.2 933.7L1111.4 934.8L1111.7 936.2L1111.9 937.5L1112 938.7L1111.9 939.7L1111.7 940.7L1111.5 941.7L1111.2 942.5L1110.8 943.3L1110.2 944L1109.4 944.8L1108.2 945.6L1106.5 946.4L1104.6 947.3L1102.5 948.1L1100.4 949L1098.4 949.8L1096.5 950.8L1094.5 951.7L1092.6 952.7L1090.8 953.6L1089.2 954.6L1087.8 955.4L1086.6 956.3L1085.7 957.2L1085 958.1L1084.6 958.8L1084.3 959.2L1084.1 959.5L1083.7 960.8L1083.9 962.1L1084.8 963.2L1086.1 963.6L1087.4 963.4L1088.5 962.5L1088.8 962.1L1089.1 961.6L1089.3 961.1L1089.6 960.7L1090.1 960.2L1090.8 959.6L1091.9 958.7L1093.3 957.7L1095 956.6L1096.7 955.5L1098.5 954.4L1100.2 953.4L1102 952.4L1104 951.5L1106 950.7L1108.1 949.8L1110 948.9L1111.6 947.8L1112.9 946.6L1113.9 945.4L1114.6 944.1L1115.1 942.8L1115.4 941.6L1115.7 940.3L1115.8 938.7L1115.7 937.1L1115.5 935.6L1115.3 934.1L1115.1 933L1114.9 932.2ZM1136.6 938.4L1136.7 939.1L1136.9 940.1L1137.1 941.5L1137.6 943.1L1138.4 944.7L1139.8 946.2L1141.7 947.2L1143.9 948L1146.2 948.7L1148.5 949.4L1150.6 950L1152.3 950.6L1153.8 951.2L1155.3 951.8L1156.6 952.4L1157.6 952.9L1158.1 953.3L1158.2 953.4L1158.1 953.1L1158.2 953.1L1158 953.3L1157.5 953.7L1156.7 954.1L1155.5 954.6L1153.6 955.1L1151.1 955.5L1148.3 955.9L1145.3 956.2L1142.4 956.6L1140 957.1L1138 957.6L1136.1 958.1L1134.4 958.7L1132.9 959.5L1131.5 960.5L1130.4 962.1L1130.4 964.3L1131.2 966L1132.2 967.4L1133.3 968.6L1134.3 969.6L1135 970.5L1135.8 971.4L1136.7 972.2L1137.5 972.8L1137.8 973L1137.5 972.4L1137.9 970.8L1138 970.6L1137.1 970.9L1135.7 971.3L1134.2 971.7L1132.8 972L1131.8 972.2L1130.6 972.9L1129.9 974.1L1129.9 975.5L1130.6 976.7L1131.8 977.4L1133.2 977.4L1134.1 977.1L1135.4 976.8L1137.1 976.4L1138.8 975.9L1140.3 975.2L1141.9 974L1142.5 971.4L1141.6 969.7L1140.7 968.9L1139.9 968.3L1139.2 967.7L1138.6 967.1L1137.8 966.3L1136.7 965.2L1135.7 964.3L1135 963.4L1134.7 963.1L1134.6 963.5L1134.6 963.6L1135.1 963.2L1136.1 962.6L1137.5 962.1L1139.2 961.5L1141 960.9L1143.1 960.4L1145.8 960L1148.7 959.5L1151.7 959.1L1154.4 958.7L1156.5 958.2L1158.2 957.5L1159.6 956.8L1160.7 955.9L1161.5 954.7L1161.9 953.3L1161.6 951.8L1160.7 950.6L1159.6 949.8L1158.3 949L1156.8 948.4L1155.3 947.7L1153.7 947L1151.8 946.3L1149.6 945.7L1147.3 945L1145.1 944.4L1143.3 943.7L1142.2 943L1141.6 942.4L1141.2 941.6L1140.9 940.6L1140.7 939.5L1140.6 938.4L1140.4 937.6ZM1168 938.9L1169.6 939.3L1171.9 940L1174.6 940.7L1177.4 941.5L1180.1 942.3L1182.3 943.1L1184.3 943.8L1186.1 944.6L1187.8 945.3L1189.3 946.2L1190.6 947L1191.7 948L1192.6 949.1L1193.4 950.3L1194 951.6L1194.6 953L1195.2 954.6L1195.9 956L1196.5 957.5L1197.1 959L1197.7 960.6L1198.2 962.1L1198.7 963.3L1199 964.2L1199.9 965.3L1201.1 965.8L1202.5 965.7L1203.6 964.8L1204.1 963.6L1204 962.2L1203.6 961.3L1203.1 960.1L1202.5 958.6L1201.7 957.1L1200.9 955.4L1200.1 954L1199.4 952.6L1198.6 951.2L1197.8 949.6L1196.8 948.1L1195.7 946.6L1194.3 945.2L1192.8 944L1191.1 943L1189.4 942L1187.6 941.2L1185.7 940.4L1183.7 939.5L1181.3 938.7L1178.5 937.8L1175.6 937L1172.9 936.2L1170.6 935.6L1169 935.1ZM1193.2 932.4L1194.3 933.4L1195.8 934.8L1197.6 936.4L1199.5 938.2L1201.4 939.8L1203 941.4L1204.4 942.7L1205.8 944L1207 945.2L1208.2 946.5L1209.3 947.7L1210.2 949L1211.1 950.4L1211.8 951.9L1212.5 953.4L1213.2 955L1214 956.5L1214.7 957.8L1215.6 958.9L1216.4 959.7L1217.2 960.4L1217.8 960.9L1218.3 961.1L1218.5 961.3L1219.8 961.8L1221.2 961.6L1222.2 960.8L1222.7 959.5L1222.5 958.1L1221.7 957.1L1221.3 956.8L1220.8 956.5L1220.3 956.2L1219.9 955.8L1219.4 955.4L1218.9 954.8L1218.2 953.9L1217.5 952.7L1216.6 951.3L1215.6 949.7L1214.5 948.1L1213.4 946.6L1212.2 945.2L1210.9 943.9L1209.7 942.6L1208.4 941.3L1207 940L1205.6 938.6L1204 937.1L1202.1 935.4L1200.2 933.6L1198.4 931.9L1196.9 930.5L1195.8 929.6ZM1170.6 937.4L1172 937.4L1174.2 937.4L1176.7 937.3L1179.4 937.2L1181.9 936.9L1184.1 936.4L1185.9 935.6L1187.2 934.5L1188.2 933.3L1189 932.3L1189.6 931.5L1190.3 930.9L1191.2 930.2L1192 929.5L1192.9 929L1193.7 928.5L1194.6 928.1L1195.9 927.8L1197.5 927.6L1199.4 927.4L1201.6 927.3L1203.8 927.3L1205.9 927.4L1207.7 927.6L1209.5 927.9L1211.1 928.4L1212.7 928.9L1214.1 929.5L1215.5 930.1L1216.7 930.9L1217.7 931.7L1218.7 932.7L1219.6 933.9L1220.5 935.1L1221.5 936.5L1222.5 937.8L1223.5 939.1L1224.5 940.4L1225.5 941.7L1226.5 943.1L1227.6 944.4L1228.7 945.6L1229.8 946.7L1231 947.8L1232.2 948.7L1233.3 949.5L1234.1 950.1L1234.7 950.5L1236 951L1237.3 950.8L1238.4 950L1238.9 948.7L1238.7 947.4L1237.9 946.3L1237.2 945.8L1236.4 945.2L1235.4 944.5L1234.3 943.7L1233.3 942.8L1232.3 942L1231.4 941L1230.4 939.9L1229.4 938.7L1228.3 937.4L1227.2 936.1L1226.1 934.8L1225 933.6L1224 932.4L1223 931.1L1221.8 929.8L1220.4 928.6L1218.9 927.5L1217.3 926.6L1215.6 925.9L1213.9 925.2L1212.1 924.7L1210.2 924.3L1208.3 924L1206.1 923.7L1203.9 923.6L1201.5 923.6L1199.2 923.7L1197 923.9L1195.1 924.2L1193.5 924.6L1192.1 925.1L1190.9 925.8L1189.8 926.5L1188.9 927.2L1187.9 927.9L1186.8 928.9L1185.9 930L1185.2 931L1184.6 931.7L1183.8 932.3L1182.9 932.8L1181.3 933.1L1179.1 933.3L1176.6 933.4L1174.1 933.5L1172 933.5L1170.4 933.6Z" fill="url(#gBRb)"/></g><ellipse cx="875" cy="821.2" rx="28.9" ry="21.1" transform="rotate(-4 875 821.2)" fill="url(#gNuc2)" stroke="#1a0a14" stroke-width="2.2"/>
<g fill="#fff31a">
<circle cx="1071.9" cy="951.1" r="4.6"/>
<circle cx="1083.1" cy="943.3" r="4.6"/>
<circle cx="1104.4" cy="945.6" r="4.6"/>
<circle cx="1108.9" cy="967.8" r="4.6"/>
<circle cx="1122.8" cy="960.6" r="4.6"/>
<circle cx="1124.7" cy="949.4" r="4.6"/>
<circle cx="1133.1" cy="953.1" r="4.6"/>
<circle cx="1153.3" cy="972.5" r="4.6"/>
<circle cx="1167.2" cy="968.3" r="4.6"/>
<circle cx="1173.3" cy="952.2" r="4.6"/>
<circle cx="1183.6" cy="957.8" r="4.6"/>
<circle cx="1222.5" cy="918.9" r="4.6"/>
<circle cx="1236.7" cy="933.6" r="4.6"/>
<circle cx="1244.7" cy="946.1" r="4.6"/>
<circle cx="1230.3" cy="949.7" r="4.6"/>
<circle cx="1217.8" cy="937.8" r="4.6"/>
<circle cx="1206.1" cy="953.1" r="4.6"/>
</g>
<path d="M1281.1 898L1256 918" stroke="#000" stroke-width="6.3" fill="none"/>
<path d="M1242.2 928.9L1251.2 911.6L1256.5 918L1262.8 924.6Z" fill="#000"/>
<path d="M286.1 1129.4H305.3C311.3 1129.4 313.1 1123.4 314.1 1107.4C315.3 1090 315.7 1078 318.3 1078C320.7 1078 321.3 1092 322.1 1108L325 1142.3C325.8 1158.3 326.4 1168.3 328.6 1168.3C331 1168.3 331.2 1156.3 332.2 1143.4C333.2 1131.4 335.6 1129.4 341.6 1129.4H396.2C402.2 1129.4 404 1123.4 405 1107.4C406.2 1090 406.6 1078 409.2 1078C411.6 1078 412.2 1092 413 1108L415.9 1142.3C416.7 1158.3 417.3 1168.3 419.5 1168.3C421.9 1168.3 422.1 1156.3 423.1 1143.4C424.1 1131.4 426.5 1129.4 432.5 1129.4H487.3C493.3 1129.4 495.1 1123.4 496.1 1107.4C497.3 1090 497.7 1078 500.3 1078C502.7 1078 503.3 1092 504.1 1108L507 1142.3C507.8 1158.3 508.4 1168.3 510.6 1168.3C513 1168.3 513.2 1156.3 514.2 1143.4C515.2 1131.4 517.6 1129.4 523.6 1129.4H579C585 1129.4 586.8 1123.4 587.8 1107.4C589 1090 589.4 1078 592 1078C594.4 1078 595 1092 595.8 1108L598.7 1142.3C599.5 1158.3 600.1 1168.3 602.3 1168.3C604.7 1168.3 604.9 1156.3 605.9 1143.4C606.9 1131.4 609.3 1129.4 615.3 1129.4H636.4" fill="none" stroke="#000" stroke-width="3.6" stroke-linejoin="round"/>
<path d="M1041.1 1129.4H1059.5C1065.5 1129.4 1067.3 1123.4 1068.3 1107.4C1069.5 1090 1069.9 1078 1072.5 1078C1074.9 1078 1075.5 1092 1076.3 1108L1079.2 1142.3C1080 1158.3 1080.6 1168.3 1082.8 1168.3C1085.2 1168.3 1085.4 1156.3 1086.4 1143.4C1087.4 1131.4 1089.8 1129.4 1095.8 1129.4H1114.8C1120.8 1129.4 1122.6 1123.4 1123.6 1107.4C1124.8 1090 1125.2 1078 1127.8 1078C1130.2 1078 1130.8 1092 1131.6 1108L1134.5 1142.3C1135.3 1158.3 1135.9 1168.3 1138.1 1168.3C1140.5 1168.3 1140.7 1156.3 1141.7 1143.4C1142.7 1131.4 1145.1 1129.4 1151.1 1129.4H1169.8C1175.8 1129.4 1177.6 1123.4 1178.6 1107.4C1179.8 1090 1180.2 1078 1182.8 1078C1185.2 1078 1185.8 1092 1186.6 1108L1189.5 1142.3C1190.3 1158.3 1190.9 1168.3 1193.1 1168.3C1195.5 1168.3 1195.7 1156.3 1196.7 1143.4C1197.7 1131.4 1200.1 1129.4 1206.1 1129.4H1224.8C1230.8 1129.4 1232.6 1123.4 1233.6 1107.4C1234.8 1090 1235.2 1078 1237.8 1078C1240.2 1078 1240.8 1092 1241.6 1108L1244.5 1142.3C1245.3 1158.3 1245.9 1168.3 1248.1 1168.3C1250.5 1168.3 1250.7 1156.3 1251.7 1143.4C1252.7 1131.4 1255.1 1129.4 1261.1 1129.4H1280.1C1286.1 1129.4 1287.9 1123.4 1288.9 1107.4C1290.1 1090 1290.5 1078 1293.1 1078C1295.5 1078 1296.1 1092 1296.9 1108L1299.8 1142.3C1300.6 1158.3 1301.2 1168.3 1303.4 1168.3C1305.8 1168.3 1306 1156.3 1307 1143.4C1308 1131.4 1310.4 1129.4 1316.4 1129.4H1335.3C1341.3 1129.4 1343.1 1123.4 1344.1 1107.4C1345.3 1090 1345.7 1078 1348.3 1078C1350.7 1078 1351.3 1092 1352.1 1108L1355 1142.3C1355.8 1158.3 1356.4 1168.3 1358.6 1168.3C1361 1168.3 1361.2 1156.3 1362.2 1143.4C1363.2 1131.4 1365.6 1129.4 1371.6 1129.4H1391.1" fill="none" stroke="#000" stroke-width="3.6" stroke-linejoin="round"/>
<g font-family="&quot;Liberation Sans&quot;, Arial, sans-serif" fill="#000">
<text x="468.3" y="164.6" font-size="48.4" font-weight="normal" textLength="238.2" lengthAdjust="spacingAndGlyphs">Maturation</text>
<text x="783.2" y="159.2" font-size="44.9" font-weight="normal" textLength="216.8" lengthAdjust="spacingAndGlyphs">(~ 14 days)</text>
<text x="60.6" y="266.7" font-size="41.3" font-weight="normal" textLength="188.2" lengthAdjust="spacingAndGlyphs">Stem Cells</text>
<text x="1127.5" y="421.4" font-size="41.3" font-weight="normal" textLength="214.2" lengthAdjust="spacingAndGlyphs">Neuron Cell</text>
<text x="694.8" y="601.1" font-size="38.4" font-weight="normal" textLength="327.6" lengthAdjust="spacingAndGlyphs">Heart and Neuron</text>
<text x="757.9" y="653.9" font-size="38.4" font-weight="normal" textLength="211.3" lengthAdjust="spacingAndGlyphs">Cell Culture</text>
<text x="309.5" y="827.8" font-size="44.3" font-weight="normal" textLength="367.6" lengthAdjust="spacingAndGlyphs">Neuronal activation</text>
<text x="388.8" y="1219.7" font-size="39.2" font-weight="normal" textLength="177.4" lengthAdjust="spacingAndGlyphs">Slow Beat</text>
<text x="1147.7" y="1219.7" font-size="39.2" font-weight="normal" textLength="161.8" lengthAdjust="spacingAndGlyphs">Fast Beat</text>
<text x="1248.1" y="798.9" font-size="30.5" font-weight="normal" textLength="56.6" lengthAdjust="spacingAndGlyphs">Cell</text>
<text x="1153.6" y="843.3" font-size="30.5" font-weight="normal" textLength="245.6" lengthAdjust="spacingAndGlyphs">Communication</text>
<path id="txtpath" d="M205 624C209.8 620 221.1 609.8 233.5 600.3C245.9 590.8 265.8 576.4 279.2 567.2C292.6 558 300.9 552.4 314.2 544.9C327.5 537.4 344.6 528.8 358.9 522.5C373.1 516.2 384.4 513 399.7 506.9C415 500.8 435.3 492.1 450.6 486C465.9 479.9 477.8 475.3 491.4 470.4C505 465.5 517.3 461.7 532.2 456.8C547.1 451.9 565.6 445.4 580.8 441.2C596 437 612.1 434.1 623.6 431.5C635.1 428.9 645.6 426.5 650 425.5" fill="none" stroke="none"/>
<text font-size="48.5" font-weight="bold"><textPath href="#txtpath" startOffset="13.5" textLength="453" lengthAdjust="spacingAndGlyphs">Neuronal maturation</textPath></text>
</g>
</g>
</svg>
</body></html>
